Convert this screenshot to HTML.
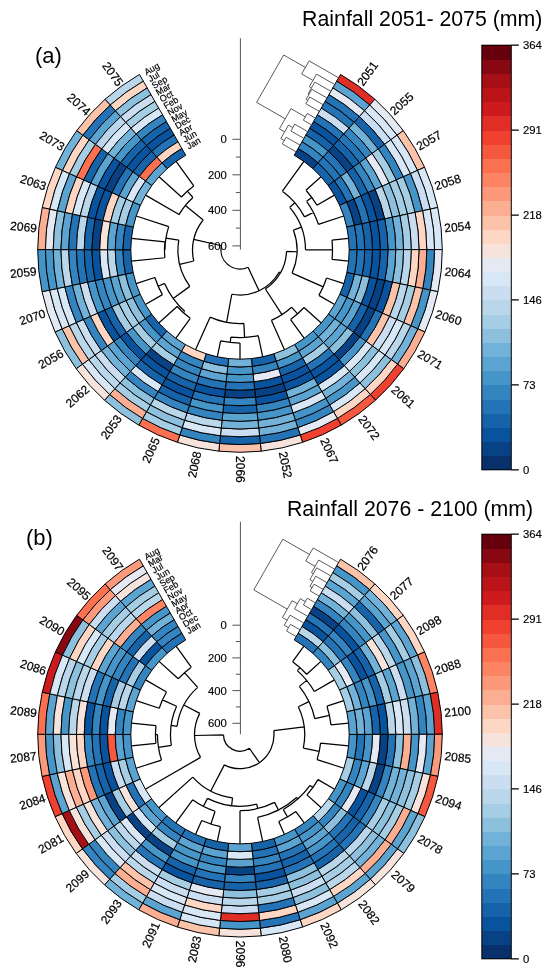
<!DOCTYPE html>
<html lang="en"><head><meta charset="utf-8"><title>Rainfall circular heatmaps</title>
<style>html,body{margin:0;padding:0;background:#fff}svg{display:block}</style></head>
<body>
<svg width="550" height="974" viewBox="0 0 550 974" font-family="'Liberation Sans', Arial, Helvetica, sans-serif">
<g stroke="#000" stroke-width="1.0" stroke-linejoin="miter">
<path d="M340.54 74.45A202.3 202.3 0 0 1 374.88 99.23L369.71 105.01A194.54 194.54 0 0 0 336.68 81.18Z" fill="#E02D26"/>
<path d="M336.68 81.18A194.54 194.54 0 0 1 369.71 105.01L364.54 110.79A186.78 186.78 0 0 0 332.83 87.92Z" fill="#5BA3D0"/>
<path d="M332.83 87.92A186.78 186.78 0 0 1 364.54 110.79L359.36 116.57A179.03 179.03 0 0 0 328.97 94.65Z" fill="#E4E9F3"/>
<path d="M328.97 94.65A179.03 179.03 0 0 1 359.36 116.57L354.19 122.36A171.27 171.27 0 0 0 325.12 101.38Z" fill="#2373B6"/>
<path d="M325.12 101.38A171.27 171.27 0 0 1 354.19 122.36L349.02 128.14A163.51 163.51 0 0 0 321.26 108.11Z" fill="#2373B6"/>
<path d="M321.26 108.11A163.51 163.51 0 0 1 349.02 128.14L343.84 133.92A155.75 155.75 0 0 0 317.4 114.85Z" fill="#CBDEF1"/>
<path d="M317.4 114.85A155.75 155.75 0 0 1 343.84 133.92L338.67 139.7A147.99 147.99 0 0 0 313.55 121.58Z" fill="#2373B6"/>
<path d="M313.55 121.58A147.99 147.99 0 0 1 338.67 139.7L333.5 145.49A140.23 140.23 0 0 0 309.69 128.31Z" fill="#09529D"/>
<path d="M309.69 128.31A140.23 140.23 0 0 1 333.5 145.49L328.33 151.27A132.48 132.48 0 0 0 305.84 135.04Z" fill="#1663AA"/>
<path d="M305.84 135.04A132.48 132.48 0 0 1 328.33 151.27L323.15 157.05A124.72 124.72 0 0 0 301.98 141.78Z" fill="#4695C8"/>
<path d="M301.98 141.78A124.72 124.72 0 0 1 323.15 157.05L317.98 162.83A116.96 116.96 0 0 0 298.13 148.51Z" fill="#3484BF"/>
<path d="M298.13 148.51A116.96 116.96 0 0 1 317.98 162.83L312.81 168.61A109.2 109.2 0 0 0 294.27 155.24Z" fill="#084184"/>
<path d="M374.88 99.23A202.3 202.3 0 0 1 403.31 130.61L397.05 135.19A194.54 194.54 0 0 0 369.71 105.01Z" fill="#E4E9F3"/>
<path d="M369.71 105.01A194.54 194.54 0 0 1 397.05 135.19L390.79 139.77A186.78 186.78 0 0 0 364.54 110.79Z" fill="#D7E7F5"/>
<path d="M364.54 110.79A186.78 186.78 0 0 1 390.79 139.77L384.53 144.35A179.03 179.03 0 0 0 359.36 116.57Z" fill="#CBDEF1"/>
<path d="M359.36 116.57A179.03 179.03 0 0 1 384.53 144.35L378.26 148.93A171.27 171.27 0 0 0 354.19 122.36Z" fill="#1663AA"/>
<path d="M354.19 122.36A171.27 171.27 0 0 1 378.26 148.93L372 153.5A163.51 163.51 0 0 0 349.02 128.14Z" fill="#72B2D8"/>
<path d="M349.02 128.14A163.51 163.51 0 0 1 372 153.5L365.74 158.08A155.75 155.75 0 0 0 343.84 133.92Z" fill="#3484BF"/>
<path d="M343.84 133.92A155.75 155.75 0 0 1 365.74 158.08L359.47 162.66A147.99 147.99 0 0 0 338.67 139.7Z" fill="#2373B6"/>
<path d="M338.67 139.7A147.99 147.99 0 0 1 359.47 162.66L353.21 167.24A140.23 140.23 0 0 0 333.5 145.49Z" fill="#1663AA"/>
<path d="M333.5 145.49A140.23 140.23 0 0 1 353.21 167.24L346.95 171.82A132.48 132.48 0 0 0 328.33 151.27Z" fill="#084184"/>
<path d="M328.33 151.27A132.48 132.48 0 0 1 346.95 171.82L340.68 176.4A124.72 124.72 0 0 0 323.15 157.05Z" fill="#2373B6"/>
<path d="M323.15 157.05A124.72 124.72 0 0 1 340.68 176.4L334.42 180.98A116.96 116.96 0 0 0 317.98 162.83Z" fill="#2373B6"/>
<path d="M317.98 162.83A116.96 116.96 0 0 1 334.42 180.98L328.16 185.56A109.2 109.2 0 0 0 312.81 168.61Z" fill="#1663AA"/>
<path d="M403.31 130.61A202.3 202.3 0 0 1 424.59 167.23L417.51 170.4A194.54 194.54 0 0 0 397.05 135.19Z" fill="#FCC3AB"/>
<path d="M397.05 135.19A194.54 194.54 0 0 1 417.51 170.4L410.43 173.58A186.78 186.78 0 0 0 390.79 139.77Z" fill="#D7E7F5"/>
<path d="M390.79 139.77A186.78 186.78 0 0 1 410.43 173.58L403.35 176.75A179.03 179.03 0 0 0 384.53 144.35Z" fill="#D7E7F5"/>
<path d="M384.53 144.35A179.03 179.03 0 0 1 403.35 176.75L396.27 179.92A171.27 171.27 0 0 0 378.26 148.93Z" fill="#3484BF"/>
<path d="M378.26 148.93A171.27 171.27 0 0 1 396.27 179.92L389.2 183.1A163.51 163.51 0 0 0 372 153.5Z" fill="#A5CDE3"/>
<path d="M372 153.5A163.51 163.51 0 0 1 389.2 183.1L382.12 186.27A155.75 155.75 0 0 0 365.74 158.08Z" fill="#E4E9F3"/>
<path d="M365.74 158.08A155.75 155.75 0 0 1 382.12 186.27L375.04 189.45A147.99 147.99 0 0 0 359.47 162.66Z" fill="#5BA3D0"/>
<path d="M359.47 162.66A147.99 147.99 0 0 1 375.04 189.45L367.96 192.62A140.23 140.23 0 0 0 353.21 167.24Z" fill="#3484BF"/>
<path d="M353.21 167.24A140.23 140.23 0 0 1 367.96 192.62L360.88 195.8A132.48 132.48 0 0 0 346.95 171.82Z" fill="#1663AA"/>
<path d="M346.95 171.82A132.48 132.48 0 0 1 360.88 195.8L353.8 198.97A124.72 124.72 0 0 0 340.68 176.4Z" fill="#72B2D8"/>
<path d="M340.68 176.4A124.72 124.72 0 0 1 353.8 198.97L346.72 202.15A116.96 116.96 0 0 0 334.42 180.98Z" fill="#2373B6"/>
<path d="M334.42 180.98A116.96 116.96 0 0 1 346.72 202.15L339.64 205.32A109.2 109.2 0 0 0 328.16 185.56Z" fill="#09529D"/>
<path d="M424.59 167.23A202.3 202.3 0 0 1 437.78 207.47L430.19 209.1A194.54 194.54 0 0 0 417.51 170.4Z" fill="#D7E7F5"/>
<path d="M417.51 170.4A194.54 194.54 0 0 1 430.19 209.1L422.61 210.73A186.78 186.78 0 0 0 410.43 173.58Z" fill="#CBDEF1"/>
<path d="M410.43 173.58A186.78 186.78 0 0 1 422.61 210.73L415.02 212.36A179.03 179.03 0 0 0 403.35 176.75Z" fill="#4695C8"/>
<path d="M403.35 176.75A179.03 179.03 0 0 1 415.02 212.36L407.44 213.99A171.27 171.27 0 0 0 396.27 179.92Z" fill="#A5CDE3"/>
<path d="M396.27 179.92A171.27 171.27 0 0 1 407.44 213.99L399.85 215.63A163.51 163.51 0 0 0 389.2 183.1Z" fill="#A5CDE3"/>
<path d="M389.2 183.1A163.51 163.51 0 0 1 399.85 215.63L392.27 217.26A155.75 155.75 0 0 0 382.12 186.27Z" fill="#8CC0DD"/>
<path d="M382.12 186.27A155.75 155.75 0 0 1 392.27 217.26L384.68 218.89A147.99 147.99 0 0 0 375.04 189.45Z" fill="#BAD6EB"/>
<path d="M375.04 189.45A147.99 147.99 0 0 1 384.68 218.89L377.1 220.52A140.23 140.23 0 0 0 367.96 192.62Z" fill="#084184"/>
<path d="M367.96 192.62A140.23 140.23 0 0 1 377.1 220.52L369.51 222.15A132.48 132.48 0 0 0 360.88 195.8Z" fill="#09529D"/>
<path d="M360.88 195.8A132.48 132.48 0 0 1 369.51 222.15L361.93 223.78A124.72 124.72 0 0 0 353.8 198.97Z" fill="#2373B6"/>
<path d="M353.8 198.97A124.72 124.72 0 0 1 361.93 223.78L354.34 225.41A116.96 116.96 0 0 0 346.72 202.15Z" fill="#084184"/>
<path d="M346.72 202.15A116.96 116.96 0 0 1 354.34 225.41L346.76 227.04A109.2 109.2 0 0 0 339.64 205.32Z" fill="#3484BF"/>
<path d="M437.78 207.47A202.3 202.3 0 0 1 442.3 249.58L434.54 249.59A194.54 194.54 0 0 0 430.19 209.1Z" fill="#D7E7F5"/>
<path d="M430.19 209.1A194.54 194.54 0 0 1 434.54 249.59L426.78 249.61A186.78 186.78 0 0 0 422.61 210.73Z" fill="#D7E7F5"/>
<path d="M422.61 210.73A186.78 186.78 0 0 1 426.78 249.61L419.02 249.63A179.03 179.03 0 0 0 415.02 212.36Z" fill="#FDD6C4"/>
<path d="M415.02 212.36A179.03 179.03 0 0 1 419.02 249.63L411.27 249.64A171.27 171.27 0 0 0 407.44 213.99Z" fill="#CBDEF1"/>
<path d="M407.44 213.99A171.27 171.27 0 0 1 411.27 249.64L403.51 249.66A163.51 163.51 0 0 0 399.85 215.63Z" fill="#A5CDE3"/>
<path d="M399.85 215.63A163.51 163.51 0 0 1 403.51 249.66L395.75 249.67A155.75 155.75 0 0 0 392.27 217.26Z" fill="#72B2D8"/>
<path d="M392.27 217.26A155.75 155.75 0 0 1 395.75 249.67L387.99 249.69A147.99 147.99 0 0 0 384.68 218.89Z" fill="#4695C8"/>
<path d="M384.68 218.89A147.99 147.99 0 0 1 387.99 249.69L380.23 249.71A140.23 140.23 0 0 0 377.1 220.52Z" fill="#1663AA"/>
<path d="M377.1 220.52A140.23 140.23 0 0 1 380.23 249.71L372.47 249.72A132.48 132.48 0 0 0 369.51 222.15Z" fill="#09529D"/>
<path d="M369.51 222.15A132.48 132.48 0 0 1 372.47 249.72L364.72 249.74A124.72 124.72 0 0 0 361.93 223.78Z" fill="#1663AA"/>
<path d="M361.93 223.78A124.72 124.72 0 0 1 364.72 249.74L356.96 249.76A116.96 116.96 0 0 0 354.34 225.41Z" fill="#2373B6"/>
<path d="M354.34 225.41A116.96 116.96 0 0 1 356.96 249.76L349.2 249.77A109.2 109.2 0 0 0 346.76 227.04Z" fill="#2373B6"/>
<path d="M442.3 249.58A202.3 202.3 0 0 1 437.96 291.7L430.36 290.1A194.54 194.54 0 0 0 434.54 249.59Z" fill="#E4E9F3"/>
<path d="M434.54 249.59A194.54 194.54 0 0 1 430.36 290.1L422.77 288.5A186.78 186.78 0 0 0 426.78 249.61Z" fill="#3484BF"/>
<path d="M426.78 249.61A186.78 186.78 0 0 1 422.77 288.5L415.18 286.9A179.03 179.03 0 0 0 419.02 249.63Z" fill="#FCAE92"/>
<path d="M419.02 249.63A179.03 179.03 0 0 1 415.18 286.9L407.59 285.3A171.27 171.27 0 0 0 411.27 249.64Z" fill="#FDD6C4"/>
<path d="M411.27 249.64A171.27 171.27 0 0 1 407.59 285.3L400 283.7A163.51 163.51 0 0 0 403.51 249.66Z" fill="#BAD6EB"/>
<path d="M403.51 249.66A163.51 163.51 0 0 1 400 283.7L392.41 282.11A155.75 155.75 0 0 0 395.75 249.67Z" fill="#8CC0DD"/>
<path d="M395.75 249.67A155.75 155.75 0 0 1 392.41 282.11L384.81 280.51A147.99 147.99 0 0 0 387.99 249.69Z" fill="#5BA3D0"/>
<path d="M387.99 249.69A147.99 147.99 0 0 1 384.81 280.51L377.22 278.91A140.23 140.23 0 0 0 380.23 249.71Z" fill="#1663AA"/>
<path d="M380.23 249.71A140.23 140.23 0 0 1 377.22 278.91L369.63 277.31A132.48 132.48 0 0 0 372.47 249.72Z" fill="#09529D"/>
<path d="M372.47 249.72A132.48 132.48 0 0 1 369.63 277.31L362.04 275.71A124.72 124.72 0 0 0 364.72 249.74Z" fill="#1663AA"/>
<path d="M364.72 249.74A124.72 124.72 0 0 1 362.04 275.71L354.45 274.11A116.96 116.96 0 0 0 356.96 249.76Z" fill="#2373B6"/>
<path d="M356.96 249.76A116.96 116.96 0 0 1 354.45 274.11L346.85 272.51A109.2 109.2 0 0 0 349.2 249.77Z" fill="#2373B6"/>
<path d="M437.96 291.7A202.3 202.3 0 0 1 424.94 332L417.84 328.85A194.54 194.54 0 0 0 430.36 290.1Z" fill="#E4E9F3"/>
<path d="M430.36 290.1A194.54 194.54 0 0 1 417.84 328.85L410.75 325.71A186.78 186.78 0 0 0 422.77 288.5Z" fill="#4695C8"/>
<path d="M422.77 288.5A186.78 186.78 0 0 1 410.75 325.71L403.66 322.56A179.03 179.03 0 0 0 415.18 286.9Z" fill="#FCC3AB"/>
<path d="M415.18 286.9A179.03 179.03 0 0 1 403.66 322.56L396.57 319.42A171.27 171.27 0 0 0 407.59 285.3Z" fill="#A5CDE3"/>
<path d="M407.59 285.3A171.27 171.27 0 0 1 396.57 319.42L389.47 316.28A163.51 163.51 0 0 0 400 283.7Z" fill="#BAD6EB"/>
<path d="M400 283.7A163.51 163.51 0 0 1 389.47 316.28L382.38 313.13A155.75 155.75 0 0 0 392.41 282.11Z" fill="#FCC3AB"/>
<path d="M392.41 282.11A155.75 155.75 0 0 1 382.38 313.13L375.29 309.99A147.99 147.99 0 0 0 384.81 280.51Z" fill="#09529D"/>
<path d="M384.81 280.51A147.99 147.99 0 0 1 375.29 309.99L368.2 306.84A140.23 140.23 0 0 0 377.22 278.91Z" fill="#084184"/>
<path d="M377.22 278.91A140.23 140.23 0 0 1 368.2 306.84L361.1 303.7A132.48 132.48 0 0 0 369.63 277.31Z" fill="#09529D"/>
<path d="M369.63 277.31A132.48 132.48 0 0 1 361.1 303.7L354.01 300.55A124.72 124.72 0 0 0 362.04 275.71Z" fill="#8CC0DD"/>
<path d="M362.04 275.71A124.72 124.72 0 0 1 354.01 300.55L346.92 297.41A116.96 116.96 0 0 0 354.45 274.11Z" fill="#72B2D8"/>
<path d="M354.45 274.11A116.96 116.96 0 0 1 346.92 297.41L339.83 294.26A109.2 109.2 0 0 0 346.85 272.51Z" fill="#1663AA"/>
<path d="M424.94 332A202.3 202.3 0 0 1 403.81 368.7L397.53 364.15A194.54 194.54 0 0 0 417.84 328.85Z" fill="#FCAE92"/>
<path d="M417.84 328.85A194.54 194.54 0 0 1 397.53 364.15L391.25 359.6A186.78 186.78 0 0 0 410.75 325.71Z" fill="#72B2D8"/>
<path d="M410.75 325.71A186.78 186.78 0 0 1 391.25 359.6L384.97 355.05A179.03 179.03 0 0 0 403.66 322.56Z" fill="#BAD6EB"/>
<path d="M403.66 322.56A179.03 179.03 0 0 1 384.97 355.05L378.68 350.49A171.27 171.27 0 0 0 396.57 319.42Z" fill="#D7E7F5"/>
<path d="M396.57 319.42A171.27 171.27 0 0 1 378.68 350.49L372.4 345.94A163.51 163.51 0 0 0 389.47 316.28Z" fill="#CBDEF1"/>
<path d="M389.47 316.28A163.51 163.51 0 0 1 372.4 345.94L366.12 341.39A155.75 155.75 0 0 0 382.38 313.13Z" fill="#FCC3AB"/>
<path d="M382.38 313.13A155.75 155.75 0 0 1 366.12 341.39L359.84 336.84A147.99 147.99 0 0 0 375.29 309.99Z" fill="#2373B6"/>
<path d="M375.29 309.99A147.99 147.99 0 0 1 359.84 336.84L353.55 332.28A140.23 140.23 0 0 0 368.2 306.84Z" fill="#084184"/>
<path d="M368.2 306.84A140.23 140.23 0 0 1 353.55 332.28L347.27 327.73A132.48 132.48 0 0 0 361.1 303.7Z" fill="#1663AA"/>
<path d="M361.1 303.7A132.48 132.48 0 0 1 347.27 327.73L340.99 323.18A124.72 124.72 0 0 0 354.01 300.55Z" fill="#5BA3D0"/>
<path d="M354.01 300.55A124.72 124.72 0 0 1 340.99 323.18L334.71 318.63A116.96 116.96 0 0 0 346.92 297.41Z" fill="#4695C8"/>
<path d="M346.92 297.41A116.96 116.96 0 0 1 334.71 318.63L328.43 314.08A109.2 109.2 0 0 0 339.83 294.26Z" fill="#5BA3D0"/>
<path d="M403.81 368.7A202.3 202.3 0 0 1 375.51 400.21L370.32 394.45A194.54 194.54 0 0 0 397.53 364.15Z" fill="#F0402F"/>
<path d="M397.53 364.15A194.54 194.54 0 0 1 370.32 394.45L365.12 388.68A186.78 186.78 0 0 0 391.25 359.6Z" fill="#FDD6C4"/>
<path d="M391.25 359.6A186.78 186.78 0 0 1 365.12 388.68L359.92 382.92A179.03 179.03 0 0 0 384.97 355.05Z" fill="#8CC0DD"/>
<path d="M384.97 355.05A179.03 179.03 0 0 1 359.92 382.92L354.72 377.16A171.27 171.27 0 0 0 378.68 350.49Z" fill="#D7E7F5"/>
<path d="M378.68 350.49A171.27 171.27 0 0 1 354.72 377.16L349.53 371.4A163.51 163.51 0 0 0 372.4 345.94Z" fill="#8CC0DD"/>
<path d="M372.4 345.94A163.51 163.51 0 0 1 349.53 371.4L344.33 365.64A155.75 155.75 0 0 0 366.12 341.39Z" fill="#D7E7F5"/>
<path d="M366.12 341.39A155.75 155.75 0 0 1 344.33 365.64L339.13 359.88A147.99 147.99 0 0 0 359.84 336.84Z" fill="#4695C8"/>
<path d="M359.84 336.84A147.99 147.99 0 0 1 339.13 359.88L333.94 354.12A140.23 140.23 0 0 0 353.55 332.28Z" fill="#084184"/>
<path d="M353.55 332.28A140.23 140.23 0 0 1 333.94 354.12L328.74 348.36A132.48 132.48 0 0 0 347.27 327.73Z" fill="#8CC0DD"/>
<path d="M347.27 327.73A132.48 132.48 0 0 1 328.74 348.36L323.54 342.6A124.72 124.72 0 0 0 340.99 323.18Z" fill="#5BA3D0"/>
<path d="M340.99 323.18A124.72 124.72 0 0 1 323.54 342.6L318.35 336.84A116.96 116.96 0 0 0 334.71 318.63Z" fill="#72B2D8"/>
<path d="M334.71 318.63A116.96 116.96 0 0 1 318.35 336.84L313.15 331.08A109.2 109.2 0 0 0 328.43 314.08Z" fill="#4695C8"/>
<path d="M375.51 400.21A202.3 202.3 0 0 1 341.27 425.13L337.39 418.41A194.54 194.54 0 0 0 370.32 394.45Z" fill="#F6583F"/>
<path d="M370.32 394.45A194.54 194.54 0 0 1 337.39 418.41L333.5 411.69A186.78 186.78 0 0 0 365.12 388.68Z" fill="#FDD6C4"/>
<path d="M365.12 388.68A186.78 186.78 0 0 1 333.5 411.69L329.62 404.98A179.03 179.03 0 0 0 359.92 382.92Z" fill="#D7E7F5"/>
<path d="M359.92 382.92A179.03 179.03 0 0 1 329.62 404.98L325.74 398.26A171.27 171.27 0 0 0 354.72 377.16Z" fill="#4695C8"/>
<path d="M354.72 377.16A171.27 171.27 0 0 1 325.74 398.26L321.85 391.55A163.51 163.51 0 0 0 349.53 371.4Z" fill="#72B2D8"/>
<path d="M349.53 371.4A163.51 163.51 0 0 1 321.85 391.55L317.97 384.83A155.75 155.75 0 0 0 344.33 365.64Z" fill="#D7E7F5"/>
<path d="M344.33 365.64A155.75 155.75 0 0 1 317.97 384.83L314.09 378.11A147.99 147.99 0 0 0 339.13 359.88Z" fill="#09529D"/>
<path d="M339.13 359.88A147.99 147.99 0 0 1 314.09 378.11L310.2 371.4A140.23 140.23 0 0 0 333.94 354.12Z" fill="#09529D"/>
<path d="M333.94 354.12A140.23 140.23 0 0 1 310.2 371.4L306.32 364.68A132.48 132.48 0 0 0 328.74 348.36Z" fill="#2373B6"/>
<path d="M328.74 348.36A132.48 132.48 0 0 1 306.32 364.68L302.43 357.96A124.72 124.72 0 0 0 323.54 342.6Z" fill="#A5CDE3"/>
<path d="M323.54 342.6A124.72 124.72 0 0 1 302.43 357.96L298.55 351.25A116.96 116.96 0 0 0 318.35 336.84Z" fill="#5BA3D0"/>
<path d="M318.35 336.84A116.96 116.96 0 0 1 298.55 351.25L294.67 344.53A109.2 109.2 0 0 0 313.15 331.08Z" fill="#4695C8"/>
<path d="M341.27 425.13A202.3 202.3 0 0 1 302.59 442.37L300.19 434.99A194.54 194.54 0 0 0 337.39 418.41Z" fill="#F0402F"/>
<path d="M337.39 418.41A194.54 194.54 0 0 1 300.19 434.99L297.79 427.62A186.78 186.78 0 0 0 333.5 411.69Z" fill="#E4E9F3"/>
<path d="M333.5 411.69A186.78 186.78 0 0 1 297.79 427.62L295.39 420.24A179.03 179.03 0 0 0 329.62 404.98Z" fill="#3484BF"/>
<path d="M329.62 404.98A179.03 179.03 0 0 1 295.39 420.24L292.99 412.86A171.27 171.27 0 0 0 325.74 398.26Z" fill="#4695C8"/>
<path d="M325.74 398.26A171.27 171.27 0 0 1 292.99 412.86L290.59 405.48A163.51 163.51 0 0 0 321.85 391.55Z" fill="#D7E7F5"/>
<path d="M321.85 391.55A163.51 163.51 0 0 1 290.59 405.48L288.19 398.11A155.75 155.75 0 0 0 317.97 384.83Z" fill="#5BA3D0"/>
<path d="M317.97 384.83A155.75 155.75 0 0 1 288.19 398.11L285.79 390.73A147.99 147.99 0 0 0 314.09 378.11Z" fill="#72B2D8"/>
<path d="M314.09 378.11A147.99 147.99 0 0 1 285.79 390.73L283.39 383.35A140.23 140.23 0 0 0 310.2 371.4Z" fill="#09529D"/>
<path d="M310.2 371.4A140.23 140.23 0 0 1 283.39 383.35L280.99 375.97A132.48 132.48 0 0 0 306.32 364.68Z" fill="#09529D"/>
<path d="M306.32 364.68A132.48 132.48 0 0 1 280.99 375.97L278.59 368.6A124.72 124.72 0 0 0 302.43 357.96Z" fill="#1663AA"/>
<path d="M302.43 357.96A124.72 124.72 0 0 1 278.59 368.6L276.19 361.22A116.96 116.96 0 0 0 298.55 351.25Z" fill="#4695C8"/>
<path d="M298.55 351.25A116.96 116.96 0 0 1 276.19 361.22L273.79 353.84A109.2 109.2 0 0 0 294.67 344.53Z" fill="#8CC0DD"/>
<path d="M302.59 442.37A202.3 202.3 0 0 1 261.17 451.19L260.36 443.47A194.54 194.54 0 0 0 300.19 434.99Z" fill="#F6E3DB"/>
<path d="M300.19 434.99A194.54 194.54 0 0 1 260.36 443.47L259.55 435.76A186.78 186.78 0 0 0 297.79 427.62Z" fill="#2373B6"/>
<path d="M297.79 427.62A186.78 186.78 0 0 1 259.55 435.76L258.74 428.04A179.03 179.03 0 0 0 295.39 420.24Z" fill="#72B2D8"/>
<path d="M295.39 420.24A179.03 179.03 0 0 1 258.74 428.04L257.93 420.33A171.27 171.27 0 0 0 292.99 412.86Z" fill="#72B2D8"/>
<path d="M292.99 412.86A171.27 171.27 0 0 1 257.93 420.33L257.11 412.61A163.51 163.51 0 0 0 290.59 405.48Z" fill="#4695C8"/>
<path d="M290.59 405.48A163.51 163.51 0 0 1 257.11 412.61L256.3 404.89A155.75 155.75 0 0 0 288.19 398.11Z" fill="#3484BF"/>
<path d="M288.19 398.11A155.75 155.75 0 0 1 256.3 404.89L255.49 397.18A147.99 147.99 0 0 0 285.79 390.73Z" fill="#09529D"/>
<path d="M285.79 390.73A147.99 147.99 0 0 1 255.49 397.18L254.68 389.46A140.23 140.23 0 0 0 283.39 383.35Z" fill="#084184"/>
<path d="M283.39 383.35A140.23 140.23 0 0 1 254.68 389.46L253.87 381.75A132.48 132.48 0 0 0 280.99 375.97Z" fill="#09529D"/>
<path d="M280.99 375.97A132.48 132.48 0 0 1 253.87 381.75L253.05 374.03A124.72 124.72 0 0 0 278.59 368.6Z" fill="#E4E9F3"/>
<path d="M278.59 368.6A124.72 124.72 0 0 1 253.05 374.03L252.24 366.32A116.96 116.96 0 0 0 276.19 361.22Z" fill="#3484BF"/>
<path d="M276.19 361.22A116.96 116.96 0 0 1 252.24 366.32L251.43 358.6A109.2 109.2 0 0 0 273.79 353.84Z" fill="#1663AA"/>
<path d="M261.17 451.19A202.3 202.3 0 0 1 218.83 451.19L219.64 443.47A194.54 194.54 0 0 0 260.36 443.47Z" fill="#FCC3AB"/>
<path d="M260.36 443.47A194.54 194.54 0 0 1 219.64 443.47L220.45 435.76A186.78 186.78 0 0 0 259.55 435.76Z" fill="#1663AA"/>
<path d="M259.55 435.76A186.78 186.78 0 0 1 220.45 435.76L221.26 428.04A179.03 179.03 0 0 0 258.74 428.04Z" fill="#CBDEF1"/>
<path d="M258.74 428.04A179.03 179.03 0 0 1 221.26 428.04L222.07 420.33A171.27 171.27 0 0 0 257.93 420.33Z" fill="#72B2D8"/>
<path d="M257.93 420.33A171.27 171.27 0 0 1 222.07 420.33L222.89 412.61A163.51 163.51 0 0 0 257.11 412.61Z" fill="#5BA3D0"/>
<path d="M257.11 412.61A163.51 163.51 0 0 1 222.89 412.61L223.7 404.89A155.75 155.75 0 0 0 256.3 404.89Z" fill="#1663AA"/>
<path d="M256.3 404.89A155.75 155.75 0 0 1 223.7 404.89L224.51 397.18A147.99 147.99 0 0 0 255.49 397.18Z" fill="#3484BF"/>
<path d="M255.49 397.18A147.99 147.99 0 0 1 224.51 397.18L225.32 389.46A140.23 140.23 0 0 0 254.68 389.46Z" fill="#084184"/>
<path d="M254.68 389.46A140.23 140.23 0 0 1 225.32 389.46L226.13 381.75A132.48 132.48 0 0 0 253.87 381.75Z" fill="#2373B6"/>
<path d="M253.87 381.75A132.48 132.48 0 0 1 226.13 381.75L226.95 374.03A124.72 124.72 0 0 0 253.05 374.03Z" fill="#4695C8"/>
<path d="M253.05 374.03A124.72 124.72 0 0 1 226.95 374.03L227.76 366.32A116.96 116.96 0 0 0 252.24 366.32Z" fill="#4695C8"/>
<path d="M252.24 366.32A116.96 116.96 0 0 1 227.76 366.32L228.57 358.6A109.2 109.2 0 0 0 251.43 358.6Z" fill="#72B2D8"/>
<path d="M218.83 451.19A202.3 202.3 0 0 1 177.41 442.37L179.81 434.99A194.54 194.54 0 0 0 219.64 443.47Z" fill="#F6E3DB"/>
<path d="M219.64 443.47A194.54 194.54 0 0 1 179.81 434.99L182.21 427.62A186.78 186.78 0 0 0 220.45 435.76Z" fill="#3484BF"/>
<path d="M220.45 435.76A186.78 186.78 0 0 1 182.21 427.62L184.61 420.24A179.03 179.03 0 0 0 221.26 428.04Z" fill="#D7E7F5"/>
<path d="M221.26 428.04A179.03 179.03 0 0 1 184.61 420.24L187.01 412.86A171.27 171.27 0 0 0 222.07 420.33Z" fill="#BAD6EB"/>
<path d="M222.07 420.33A171.27 171.27 0 0 1 187.01 412.86L189.41 405.48A163.51 163.51 0 0 0 222.89 412.61Z" fill="#3484BF"/>
<path d="M222.89 412.61A163.51 163.51 0 0 1 189.41 405.48L191.81 398.11A155.75 155.75 0 0 0 223.7 404.89Z" fill="#4695C8"/>
<path d="M223.7 404.89A155.75 155.75 0 0 1 191.81 398.11L194.21 390.73A147.99 147.99 0 0 0 224.51 397.18Z" fill="#2373B6"/>
<path d="M224.51 397.18A147.99 147.99 0 0 1 194.21 390.73L196.61 383.35A140.23 140.23 0 0 0 225.32 389.46Z" fill="#09529D"/>
<path d="M225.32 389.46A140.23 140.23 0 0 1 196.61 383.35L199.01 375.97A132.48 132.48 0 0 0 226.13 381.75Z" fill="#2373B6"/>
<path d="M226.13 381.75A132.48 132.48 0 0 1 199.01 375.97L201.41 368.6A124.72 124.72 0 0 0 226.95 374.03Z" fill="#5BA3D0"/>
<path d="M226.95 374.03A124.72 124.72 0 0 1 201.41 368.6L203.81 361.22A116.96 116.96 0 0 0 227.76 366.32Z" fill="#8CC0DD"/>
<path d="M227.76 366.32A116.96 116.96 0 0 1 203.81 361.22L206.21 353.84A109.2 109.2 0 0 0 228.57 358.6Z" fill="#2373B6"/>
<path d="M177.41 442.37A202.3 202.3 0 0 1 138.73 425.13L142.61 418.41A194.54 194.54 0 0 0 179.81 434.99Z" fill="#FB7050"/>
<path d="M179.81 434.99A194.54 194.54 0 0 1 142.61 418.41L146.5 411.69A186.78 186.78 0 0 0 182.21 427.62Z" fill="#A5CDE3"/>
<path d="M182.21 427.62A186.78 186.78 0 0 1 146.5 411.69L150.38 404.98A179.03 179.03 0 0 0 184.61 420.24Z" fill="#8CC0DD"/>
<path d="M184.61 420.24A179.03 179.03 0 0 1 150.38 404.98L154.26 398.26A171.27 171.27 0 0 0 187.01 412.86Z" fill="#BAD6EB"/>
<path d="M187.01 412.86A171.27 171.27 0 0 1 154.26 398.26L158.15 391.55A163.51 163.51 0 0 0 189.41 405.48Z" fill="#3484BF"/>
<path d="M189.41 405.48A163.51 163.51 0 0 1 158.15 391.55L162.03 384.83A155.75 155.75 0 0 0 191.81 398.11Z" fill="#1663AA"/>
<path d="M191.81 398.11A155.75 155.75 0 0 1 162.03 384.83L165.91 378.11A147.99 147.99 0 0 0 194.21 390.73Z" fill="#09529D"/>
<path d="M194.21 390.73A147.99 147.99 0 0 1 165.91 378.11L169.8 371.4A140.23 140.23 0 0 0 196.61 383.35Z" fill="#1663AA"/>
<path d="M196.61 383.35A140.23 140.23 0 0 1 169.8 371.4L173.68 364.68A132.48 132.48 0 0 0 199.01 375.97Z" fill="#3484BF"/>
<path d="M199.01 375.97A132.48 132.48 0 0 1 173.68 364.68L177.57 357.96A124.72 124.72 0 0 0 201.41 368.6Z" fill="#3484BF"/>
<path d="M201.41 368.6A124.72 124.72 0 0 1 177.57 357.96L181.45 351.25A116.96 116.96 0 0 0 203.81 361.22Z" fill="#3484BF"/>
<path d="M203.81 361.22A116.96 116.96 0 0 1 181.45 351.25L185.33 344.53A109.2 109.2 0 0 0 206.21 353.84Z" fill="#FDD6C4"/>
<path d="M138.73 425.13A202.3 202.3 0 0 1 104.49 400.21L109.68 394.45A194.54 194.54 0 0 0 142.61 418.41Z" fill="#8CC0DD"/>
<path d="M142.61 418.41A194.54 194.54 0 0 1 109.68 394.45L114.88 388.68A186.78 186.78 0 0 0 146.5 411.69Z" fill="#FCAE92"/>
<path d="M146.5 411.69A186.78 186.78 0 0 1 114.88 388.68L120.08 382.92A179.03 179.03 0 0 0 150.38 404.98Z" fill="#A5CDE3"/>
<path d="M150.38 404.98A179.03 179.03 0 0 1 120.08 382.92L125.28 377.16A171.27 171.27 0 0 0 154.26 398.26Z" fill="#8CC0DD"/>
<path d="M154.26 398.26A171.27 171.27 0 0 1 125.28 377.16L130.47 371.4A163.51 163.51 0 0 0 158.15 391.55Z" fill="#3484BF"/>
<path d="M158.15 391.55A163.51 163.51 0 0 1 130.47 371.4L135.67 365.64A155.75 155.75 0 0 0 162.03 384.83Z" fill="#D7E7F5"/>
<path d="M162.03 384.83A155.75 155.75 0 0 1 135.67 365.64L140.87 359.88A147.99 147.99 0 0 0 165.91 378.11Z" fill="#1663AA"/>
<path d="M165.91 378.11A147.99 147.99 0 0 1 140.87 359.88L146.06 354.12A140.23 140.23 0 0 0 169.8 371.4Z" fill="#09529D"/>
<path d="M169.8 371.4A140.23 140.23 0 0 1 146.06 354.12L151.26 348.36A132.48 132.48 0 0 0 173.68 364.68Z" fill="#084184"/>
<path d="M173.68 364.68A132.48 132.48 0 0 1 151.26 348.36L156.46 342.6A124.72 124.72 0 0 0 177.57 357.96Z" fill="#A5CDE3"/>
<path d="M177.57 357.96A124.72 124.72 0 0 1 156.46 342.6L161.65 336.84A116.96 116.96 0 0 0 181.45 351.25Z" fill="#5BA3D0"/>
<path d="M181.45 351.25A116.96 116.96 0 0 1 161.65 336.84L166.85 331.08A109.2 109.2 0 0 0 185.33 344.53Z" fill="#5BA3D0"/>
<path d="M104.49 400.21A202.3 202.3 0 0 1 76.19 368.7L82.47 364.15A194.54 194.54 0 0 0 109.68 394.45Z" fill="#F6E3DB"/>
<path d="M109.68 394.45A194.54 194.54 0 0 1 82.47 364.15L88.75 359.6A186.78 186.78 0 0 0 114.88 388.68Z" fill="#D7E7F5"/>
<path d="M114.88 388.68A186.78 186.78 0 0 1 88.75 359.6L95.03 355.05A179.03 179.03 0 0 0 120.08 382.92Z" fill="#BAD6EB"/>
<path d="M120.08 382.92A179.03 179.03 0 0 1 95.03 355.05L101.32 350.49A171.27 171.27 0 0 0 125.28 377.16Z" fill="#CBDEF1"/>
<path d="M125.28 377.16A171.27 171.27 0 0 1 101.32 350.49L107.6 345.94A163.51 163.51 0 0 0 130.47 371.4Z" fill="#72B2D8"/>
<path d="M130.47 371.4A163.51 163.51 0 0 1 107.6 345.94L113.88 341.39A155.75 155.75 0 0 0 135.67 365.64Z" fill="#5BA3D0"/>
<path d="M135.67 365.64A155.75 155.75 0 0 1 113.88 341.39L120.16 336.84A147.99 147.99 0 0 0 140.87 359.88Z" fill="#3484BF"/>
<path d="M140.87 359.88A147.99 147.99 0 0 1 120.16 336.84L126.45 332.28A140.23 140.23 0 0 0 146.06 354.12Z" fill="#09529D"/>
<path d="M146.06 354.12A140.23 140.23 0 0 1 126.45 332.28L132.73 327.73A132.48 132.48 0 0 0 151.26 348.36Z" fill="#4695C8"/>
<path d="M151.26 348.36A132.48 132.48 0 0 1 132.73 327.73L139.01 323.18A124.72 124.72 0 0 0 156.46 342.6Z" fill="#A5CDE3"/>
<path d="M156.46 342.6A124.72 124.72 0 0 1 139.01 323.18L145.29 318.63A116.96 116.96 0 0 0 161.65 336.84Z" fill="#4695C8"/>
<path d="M161.65 336.84A116.96 116.96 0 0 1 145.29 318.63L151.57 314.08A109.2 109.2 0 0 0 166.85 331.08Z" fill="#1663AA"/>
<path d="M76.19 368.7A202.3 202.3 0 0 1 55.06 332L62.16 328.85A194.54 194.54 0 0 0 82.47 364.15Z" fill="#8CC0DD"/>
<path d="M82.47 364.15A194.54 194.54 0 0 1 62.16 328.85L69.25 325.71A186.78 186.78 0 0 0 88.75 359.6Z" fill="#FCC3AB"/>
<path d="M88.75 359.6A186.78 186.78 0 0 1 69.25 325.71L76.34 322.56A179.03 179.03 0 0 0 95.03 355.05Z" fill="#BAD6EB"/>
<path d="M95.03 355.05A179.03 179.03 0 0 1 76.34 322.56L83.43 319.42A171.27 171.27 0 0 0 101.32 350.49Z" fill="#CBDEF1"/>
<path d="M101.32 350.49A171.27 171.27 0 0 1 83.43 319.42L90.53 316.28A163.51 163.51 0 0 0 107.6 345.94Z" fill="#3484BF"/>
<path d="M107.6 345.94A163.51 163.51 0 0 1 90.53 316.28L97.62 313.13A155.75 155.75 0 0 0 113.88 341.39Z" fill="#FDD6C4"/>
<path d="M113.88 341.39A155.75 155.75 0 0 1 97.62 313.13L104.71 309.99A147.99 147.99 0 0 0 120.16 336.84Z" fill="#09529D"/>
<path d="M120.16 336.84A147.99 147.99 0 0 1 104.71 309.99L111.8 306.84A140.23 140.23 0 0 0 126.45 332.28Z" fill="#1663AA"/>
<path d="M126.45 332.28A140.23 140.23 0 0 1 111.8 306.84L118.9 303.7A132.48 132.48 0 0 0 132.73 327.73Z" fill="#A5CDE3"/>
<path d="M132.73 327.73A132.48 132.48 0 0 1 118.9 303.7L125.99 300.55A124.72 124.72 0 0 0 139.01 323.18Z" fill="#A5CDE3"/>
<path d="M139.01 323.18A124.72 124.72 0 0 1 125.99 300.55L133.08 297.41A116.96 116.96 0 0 0 145.29 318.63Z" fill="#8CC0DD"/>
<path d="M145.29 318.63A116.96 116.96 0 0 1 133.08 297.41L140.17 294.26A109.2 109.2 0 0 0 151.57 314.08Z" fill="#4695C8"/>
<path d="M55.06 332A202.3 202.3 0 0 1 42.04 291.7L49.64 290.1A194.54 194.54 0 0 0 62.16 328.85Z" fill="#E4E9F3"/>
<path d="M62.16 328.85A194.54 194.54 0 0 1 49.64 290.1L57.23 288.5A186.78 186.78 0 0 0 69.25 325.71Z" fill="#D7E7F5"/>
<path d="M69.25 325.71A186.78 186.78 0 0 1 57.23 288.5L64.82 286.9A179.03 179.03 0 0 0 76.34 322.56Z" fill="#D7E7F5"/>
<path d="M76.34 322.56A179.03 179.03 0 0 1 64.82 286.9L72.41 285.3A171.27 171.27 0 0 0 83.43 319.42Z" fill="#3484BF"/>
<path d="M83.43 319.42A171.27 171.27 0 0 1 72.41 285.3L80 283.7A163.51 163.51 0 0 0 90.53 316.28Z" fill="#72B2D8"/>
<path d="M90.53 316.28A163.51 163.51 0 0 1 80 283.7L87.59 282.11A155.75 155.75 0 0 0 97.62 313.13Z" fill="#CBDEF1"/>
<path d="M97.62 313.13A155.75 155.75 0 0 1 87.59 282.11L95.19 280.51A147.99 147.99 0 0 0 104.71 309.99Z" fill="#4695C8"/>
<path d="M104.71 309.99A147.99 147.99 0 0 1 95.19 280.51L102.78 278.91A140.23 140.23 0 0 0 111.8 306.84Z" fill="#3484BF"/>
<path d="M111.8 306.84A140.23 140.23 0 0 1 102.78 278.91L110.37 277.31A132.48 132.48 0 0 0 118.9 303.7Z" fill="#4695C8"/>
<path d="M118.9 303.7A132.48 132.48 0 0 1 110.37 277.31L117.96 275.71A124.72 124.72 0 0 0 125.99 300.55Z" fill="#5BA3D0"/>
<path d="M125.99 300.55A124.72 124.72 0 0 1 117.96 275.71L125.55 274.11A116.96 116.96 0 0 0 133.08 297.41Z" fill="#8CC0DD"/>
<path d="M133.08 297.41A116.96 116.96 0 0 1 125.55 274.11L133.15 272.51A109.2 109.2 0 0 0 140.17 294.26Z" fill="#4695C8"/>
<path d="M42.04 291.7A202.3 202.3 0 0 1 37.7 249.58L45.46 249.59A194.54 194.54 0 0 0 49.64 290.1Z" fill="#4695C8"/>
<path d="M49.64 290.1A194.54 194.54 0 0 1 45.46 249.59L53.22 249.61A186.78 186.78 0 0 0 57.23 288.5Z" fill="#4695C8"/>
<path d="M57.23 288.5A186.78 186.78 0 0 1 53.22 249.61L60.98 249.63A179.03 179.03 0 0 0 64.82 286.9Z" fill="#72B2D8"/>
<path d="M64.82 286.9A179.03 179.03 0 0 1 60.98 249.63L68.73 249.64A171.27 171.27 0 0 0 72.41 285.3Z" fill="#BAD6EB"/>
<path d="M72.41 285.3A171.27 171.27 0 0 1 68.73 249.64L76.49 249.66A163.51 163.51 0 0 0 80 283.7Z" fill="#3484BF"/>
<path d="M80 283.7A163.51 163.51 0 0 1 76.49 249.66L84.25 249.67A155.75 155.75 0 0 0 87.59 282.11Z" fill="#2373B6"/>
<path d="M87.59 282.11A155.75 155.75 0 0 1 84.25 249.67L92.01 249.69A147.99 147.99 0 0 0 95.19 280.51Z" fill="#1663AA"/>
<path d="M95.19 280.51A147.99 147.99 0 0 1 92.01 249.69L99.77 249.71A140.23 140.23 0 0 0 102.78 278.91Z" fill="#09529D"/>
<path d="M102.78 278.91A140.23 140.23 0 0 1 99.77 249.71L107.53 249.72A132.48 132.48 0 0 0 110.37 277.31Z" fill="#D7E7F5"/>
<path d="M110.37 277.31A132.48 132.48 0 0 1 107.53 249.72L115.28 249.74A124.72 124.72 0 0 0 117.96 275.71Z" fill="#BAD6EB"/>
<path d="M117.96 275.71A124.72 124.72 0 0 1 115.28 249.74L123.04 249.76A116.96 116.96 0 0 0 125.55 274.11Z" fill="#3484BF"/>
<path d="M125.55 274.11A116.96 116.96 0 0 1 123.04 249.76L130.8 249.77A109.2 109.2 0 0 0 133.15 272.51Z" fill="#1663AA"/>
<path d="M37.7 249.58A202.3 202.3 0 0 1 42.22 207.47L49.81 209.1A194.54 194.54 0 0 0 45.46 249.59Z" fill="#FCAE92"/>
<path d="M45.46 249.59A194.54 194.54 0 0 1 49.81 209.1L57.39 210.73A186.78 186.78 0 0 0 53.22 249.61Z" fill="#E4E9F3"/>
<path d="M53.22 249.61A186.78 186.78 0 0 1 57.39 210.73L64.98 212.36A179.03 179.03 0 0 0 60.98 249.63Z" fill="#8CC0DD"/>
<path d="M60.98 249.63A179.03 179.03 0 0 1 64.98 212.36L72.56 213.99A171.27 171.27 0 0 0 68.73 249.64Z" fill="#5BA3D0"/>
<path d="M68.73 249.64A171.27 171.27 0 0 1 72.56 213.99L80.15 215.63A163.51 163.51 0 0 0 76.49 249.66Z" fill="#2373B6"/>
<path d="M76.49 249.66A163.51 163.51 0 0 1 80.15 215.63L87.73 217.26A155.75 155.75 0 0 0 84.25 249.67Z" fill="#BAD6EB"/>
<path d="M84.25 249.67A155.75 155.75 0 0 1 87.73 217.26L95.32 218.89A147.99 147.99 0 0 0 92.01 249.69Z" fill="#1663AA"/>
<path d="M92.01 249.69A147.99 147.99 0 0 1 95.32 218.89L102.9 220.52A140.23 140.23 0 0 0 99.77 249.71Z" fill="#084184"/>
<path d="M99.77 249.71A140.23 140.23 0 0 1 102.9 220.52L110.49 222.15A132.48 132.48 0 0 0 107.53 249.72Z" fill="#F6E3DB"/>
<path d="M107.53 249.72A132.48 132.48 0 0 1 110.49 222.15L118.07 223.78A124.72 124.72 0 0 0 115.28 249.74Z" fill="#5BA3D0"/>
<path d="M115.28 249.74A124.72 124.72 0 0 1 118.07 223.78L125.66 225.41A116.96 116.96 0 0 0 123.04 249.76Z" fill="#3484BF"/>
<path d="M123.04 249.76A116.96 116.96 0 0 1 125.66 225.41L133.24 227.04A109.2 109.2 0 0 0 130.8 249.77Z" fill="#1663AA"/>
<path d="M42.22 207.47A202.3 202.3 0 0 1 55.41 167.23L62.49 170.4A194.54 194.54 0 0 0 49.81 209.1Z" fill="#FDD6C4"/>
<path d="M49.81 209.1A194.54 194.54 0 0 1 62.49 170.4L69.57 173.58A186.78 186.78 0 0 0 57.39 210.73Z" fill="#D7E7F5"/>
<path d="M57.39 210.73A186.78 186.78 0 0 1 69.57 173.58L76.65 176.75A179.03 179.03 0 0 0 64.98 212.36Z" fill="#5BA3D0"/>
<path d="M64.98 212.36A179.03 179.03 0 0 1 76.65 176.75L83.73 179.92A171.27 171.27 0 0 0 72.56 213.99Z" fill="#FDD6C4"/>
<path d="M72.56 213.99A171.27 171.27 0 0 1 83.73 179.92L90.8 183.1A163.51 163.51 0 0 0 80.15 215.63Z" fill="#D7E7F5"/>
<path d="M80.15 215.63A163.51 163.51 0 0 1 90.8 183.1L97.88 186.27A155.75 155.75 0 0 0 87.73 217.26Z" fill="#BAD6EB"/>
<path d="M87.73 217.26A155.75 155.75 0 0 1 97.88 186.27L104.96 189.45A147.99 147.99 0 0 0 95.32 218.89Z" fill="#09529D"/>
<path d="M95.32 218.89A147.99 147.99 0 0 1 104.96 189.45L112.04 192.62A140.23 140.23 0 0 0 102.9 220.52Z" fill="#09529D"/>
<path d="M102.9 220.52A140.23 140.23 0 0 1 112.04 192.62L119.12 195.8A132.48 132.48 0 0 0 110.49 222.15Z" fill="#FDD6C4"/>
<path d="M110.49 222.15A132.48 132.48 0 0 1 119.12 195.8L126.2 198.97A124.72 124.72 0 0 0 118.07 223.78Z" fill="#A5CDE3"/>
<path d="M118.07 223.78A124.72 124.72 0 0 1 126.2 198.97L133.28 202.15A116.96 116.96 0 0 0 125.66 225.41Z" fill="#A5CDE3"/>
<path d="M125.66 225.41A116.96 116.96 0 0 1 133.28 202.15L140.36 205.32A109.2 109.2 0 0 0 133.24 227.04Z" fill="#4695C8"/>
<path d="M55.41 167.23A202.3 202.3 0 0 1 76.69 130.61L82.95 135.19A194.54 194.54 0 0 0 62.49 170.4Z" fill="#72B2D8"/>
<path d="M62.49 170.4A194.54 194.54 0 0 1 82.95 135.19L89.21 139.77A186.78 186.78 0 0 0 69.57 173.58Z" fill="#FDD6C4"/>
<path d="M69.57 173.58A186.78 186.78 0 0 1 89.21 139.77L95.47 144.35A179.03 179.03 0 0 0 76.65 176.75Z" fill="#A5CDE3"/>
<path d="M76.65 176.75A179.03 179.03 0 0 1 95.47 144.35L101.74 148.93A171.27 171.27 0 0 0 83.73 179.92Z" fill="#FB7050"/>
<path d="M83.73 179.92A171.27 171.27 0 0 1 101.74 148.93L108 153.5A163.51 163.51 0 0 0 90.8 183.1Z" fill="#1663AA"/>
<path d="M90.8 183.1A163.51 163.51 0 0 1 108 153.5L114.26 158.08A155.75 155.75 0 0 0 97.88 186.27Z" fill="#5BA3D0"/>
<path d="M97.88 186.27A155.75 155.75 0 0 1 114.26 158.08L120.53 162.66A147.99 147.99 0 0 0 104.96 189.45Z" fill="#09529D"/>
<path d="M104.96 189.45A147.99 147.99 0 0 1 120.53 162.66L126.79 167.24A140.23 140.23 0 0 0 112.04 192.62Z" fill="#084184"/>
<path d="M112.04 192.62A140.23 140.23 0 0 1 126.79 167.24L133.05 171.82A132.48 132.48 0 0 0 119.12 195.8Z" fill="#2373B6"/>
<path d="M119.12 195.8A132.48 132.48 0 0 1 133.05 171.82L139.32 176.4A124.72 124.72 0 0 0 126.2 198.97Z" fill="#5BA3D0"/>
<path d="M126.2 198.97A124.72 124.72 0 0 1 139.32 176.4L145.58 180.98A116.96 116.96 0 0 0 133.28 202.15Z" fill="#D7E7F5"/>
<path d="M133.28 202.15A116.96 116.96 0 0 1 145.58 180.98L151.84 185.56A109.2 109.2 0 0 0 140.36 205.32Z" fill="#72B2D8"/>
<path d="M76.69 130.61A202.3 202.3 0 0 1 105.12 99.23L110.29 105.01A194.54 194.54 0 0 0 82.95 135.19Z" fill="#FCC3AB"/>
<path d="M82.95 135.19A194.54 194.54 0 0 1 110.29 105.01L115.46 110.79A186.78 186.78 0 0 0 89.21 139.77Z" fill="#2373B6"/>
<path d="M89.21 139.77A186.78 186.78 0 0 1 115.46 110.79L120.64 116.57A179.03 179.03 0 0 0 95.47 144.35Z" fill="#5BA3D0"/>
<path d="M95.47 144.35A179.03 179.03 0 0 1 120.64 116.57L125.81 122.36A171.27 171.27 0 0 0 101.74 148.93Z" fill="#BAD6EB"/>
<path d="M101.74 148.93A171.27 171.27 0 0 1 125.81 122.36L130.98 128.14A163.51 163.51 0 0 0 108 153.5Z" fill="#D7E7F5"/>
<path d="M108 153.5A163.51 163.51 0 0 1 130.98 128.14L136.16 133.92A155.75 155.75 0 0 0 114.26 158.08Z" fill="#72B2D8"/>
<path d="M114.26 158.08A155.75 155.75 0 0 1 136.16 133.92L141.33 139.7A147.99 147.99 0 0 0 120.53 162.66Z" fill="#4695C8"/>
<path d="M120.53 162.66A147.99 147.99 0 0 1 141.33 139.7L146.5 145.49A140.23 140.23 0 0 0 126.79 167.24Z" fill="#1663AA"/>
<path d="M126.79 167.24A140.23 140.23 0 0 1 146.5 145.49L151.67 151.27A132.48 132.48 0 0 0 133.05 171.82Z" fill="#09529D"/>
<path d="M133.05 171.82A132.48 132.48 0 0 1 151.67 151.27L156.85 157.05A124.72 124.72 0 0 0 139.32 176.4Z" fill="#1663AA"/>
<path d="M139.32 176.4A124.72 124.72 0 0 1 156.85 157.05L162.02 162.83A116.96 116.96 0 0 0 145.58 180.98Z" fill="#FB7050"/>
<path d="M145.58 180.98A116.96 116.96 0 0 1 162.02 162.83L167.19 168.61A109.2 109.2 0 0 0 151.84 185.56Z" fill="#5BA3D0"/>
<path d="M105.12 99.23A202.3 202.3 0 0 1 139.46 74.45L143.32 81.18A194.54 194.54 0 0 0 110.29 105.01Z" fill="#BAD6EB"/>
<path d="M110.29 105.01A194.54 194.54 0 0 1 143.32 81.18L147.17 87.92A186.78 186.78 0 0 0 115.46 110.79Z" fill="#FDD6C4"/>
<path d="M115.46 110.79A186.78 186.78 0 0 1 147.17 87.92L151.03 94.65A179.03 179.03 0 0 0 120.64 116.57Z" fill="#8CC0DD"/>
<path d="M120.64 116.57A179.03 179.03 0 0 1 151.03 94.65L154.88 101.38A171.27 171.27 0 0 0 125.81 122.36Z" fill="#CBDEF1"/>
<path d="M125.81 122.36A171.27 171.27 0 0 1 154.88 101.38L158.74 108.11A163.51 163.51 0 0 0 130.98 128.14Z" fill="#A5CDE3"/>
<path d="M130.98 128.14A163.51 163.51 0 0 1 158.74 108.11L162.6 114.85A155.75 155.75 0 0 0 136.16 133.92Z" fill="#D7E7F5"/>
<path d="M136.16 133.92A155.75 155.75 0 0 1 162.6 114.85L166.45 121.58A147.99 147.99 0 0 0 141.33 139.7Z" fill="#3484BF"/>
<path d="M141.33 139.7A147.99 147.99 0 0 1 166.45 121.58L170.31 128.31A140.23 140.23 0 0 0 146.5 145.49Z" fill="#1663AA"/>
<path d="M146.5 145.49A140.23 140.23 0 0 1 170.31 128.31L174.16 135.04A132.48 132.48 0 0 0 151.67 151.27Z" fill="#09529D"/>
<path d="M151.67 151.27A132.48 132.48 0 0 1 174.16 135.04L178.02 141.78A124.72 124.72 0 0 0 156.85 157.05Z" fill="#2373B6"/>
<path d="M156.85 157.05A124.72 124.72 0 0 1 178.02 141.78L181.87 148.51A116.96 116.96 0 0 0 162.02 162.83Z" fill="#FDD6C4"/>
<path d="M162.02 162.83A116.96 116.96 0 0 1 181.87 148.51L185.73 155.24A109.2 109.2 0 0 0 167.19 168.61Z" fill="#1663AA"/>
</g>
<path d="M320.93 176.68L305.96 190.24M334.42 195.14L316.95 205.28M305.96 190.24A89 89 0 0 1 316.95 205.28M311.85 197.48L306.6 201.31M343.77 215.99L318.4 224.31M306.6 201.31A82.5 82.5 0 0 1 318.4 224.31M303.89 161.44L282.42 191.2M313.41 212.35L304.51 216.91M282.42 191.2A72.5 72.5 0 0 1 304.51 216.91M348.58 238.34L331.97 240.13M348.62 261.2L332.01 259.49M331.97 240.13A92.5 92.5 0 0 1 332.01 259.49M294.99 202.75L289.68 207.31M332.5 249.81L305.5 249.86M289.68 207.31A65.5 65.5 0 0 1 305.5 249.86M343.91 283.57L326.59 277.98M334.65 304.47L318.87 295.39M326.59 277.98A91 91 0 0 1 318.87 295.39M301.39 227.17L293.43 230.13M323.19 286.89L292.11 273.1M293.43 230.13A57 57 0 0 1 292.11 273.1M321.23 322.98L303.97 307.47M304.26 338.29L290.61 319.53M303.97 307.47A86 86 0 0 1 290.61 319.53M297.61 313.85L291.58 307.17M284.47 349.73L271.36 320.33M291.58 307.17A77 77 0 0 1 271.36 320.33M296.97 251.75L286.48 251.43M281.99 314.55L265.36 288.98M286.48 251.43A46.5 46.5 0 0 1 265.36 288.98M240 359.2L240 343M217.27 356.81L220.64 340.96M240 343A93 93 0 0 1 220.64 340.96M262.73 356.81L258.22 335.58M230.27 342.49L230.84 337.02M258.22 335.58A87.5 87.5 0 0 1 230.84 337.02M244.59 337.38L243.85 323.4M195.53 349.73L210.07 317.13M243.85 323.4A73.5 73.5 0 0 1 210.07 317.13M280.53 272.8L279.22 272.06M226.59 322.27L231.79 294.24M279.22 272.06A45 45 0 0 1 231.79 294.24M175.74 338.29L190.27 318.32M158.77 322.98L177.14 306.47M190.27 318.32A84.5 84.5 0 0 1 177.14 306.47M145.35 304.47L162.43 294.64M136.09 283.57L154.83 277.51M162.43 294.64A89.5 89.5 0 0 1 154.83 277.51M183.4 312.74L184.74 311.26M158.18 286.28L164.58 283.44M184.74 311.26A82.5 82.5 0 0 1 164.58 283.44M131.38 261.2L164.9 257.75M131.42 238.34L164.93 241.94M164.9 257.75A75.5 75.5 0 0 1 164.93 241.94M164.5 249.84L165 249.84M136.23 215.99L168.73 226.64M165 249.84A75 75 0 0 1 168.73 226.64M173.2 298.41L189.8 286.38M165.95 238.1L178.79 240.16M189.8 286.38A62 62 0 0 1 178.79 240.16M159.07 176.68L181.45 196.96M176.11 161.44L193.78 185.93M181.45 196.96A79 79 0 0 1 193.78 185.93M145.58 195.14L179.04 214.58M187.33 191.12L192.99 197.46M179.04 214.58A70.5 70.5 0 0 1 192.99 197.46M179.69 264.37L193.79 261.01M185.34 205.47L203.18 220M193.79 261.01A47.5 47.5 0 0 1 203.18 220M259.06 290.76L248.05 267.21M193.7 239.41L221.48 245.76M248.05 267.21A19 19 0 0 1 221.48 245.76" fill="none" stroke="#000" stroke-width="1.25" stroke-linecap="butt" stroke-linejoin="miter"/>
<path d="M323.19 104.75L309.74 97.04L305.88 103.78L319.33 111.48M327.04 98.01L311.86 89.32L306.07 99.42L307.81 100.41M330.9 91.28L314.84 82.09L308.1 93.87L308.97 94.37M334.75 84.55L316.53 74.11L309.3 86.74L311.47 87.98M338.61 77.82L309.11 60.92L301.64 73.96L312.92 80.42M315.48 118.21L307.23 113.49L303.38 120.22L311.62 124.94M307.76 131.68L294.75 124.22L290.89 130.95L303.91 138.41M300.05 145.14L286.17 137.19L282.31 143.92L296.2 151.87M292.82 127.59L288.48 125.1L280.77 138.57L284.24 140.56M305.3 116.86L290.99 108.66L279.42 128.85L284.63 131.84M305.37 67.44L283.68 55.02L256.57 102.36L285.2 118.76" fill="none" stroke="#4a4a4a" stroke-width="0.9" stroke-linejoin="miter"/>
<path d="M240.4 38.2L240.4 249.6M232.4 139.3L240.4 139.3M235.9 157.06L240.4 157.06M232.4 174.82L240.4 174.82M235.9 192.58L240.4 192.58M232.4 210.34L240.4 210.34M235.9 228.1L240.4 228.1M232.4 245.86L240.4 245.86" fill="none" stroke="#555" stroke-width="1"/>
<g font-size="11.3" text-anchor="end" fill="#000" stroke="#000" stroke-width="0.15">
<text x="226.8" y="143.35">0</text>
<text x="226.8" y="178.87">200</text>
<text x="226.8" y="214.39">400</text>
<text x="226.8" y="249.91">600</text>
</g>
<g font-size="12.0" fill="#000" stroke="#000" stroke-width="0.22">
<text transform="translate(359.62 84.19) rotate(-54.19)" text-anchor="start" dy="0.36em">2051</text>
<text transform="translate(391.7 112.56) rotate(-42.18)" text-anchor="start" dy="0.36em">2055</text>
<text transform="translate(417.22 147.02) rotate(-30.16)" text-anchor="start" dy="0.36em">2057</text>
<text transform="translate(435.02 186.09) rotate(-18.14)" text-anchor="start" dy="0.36em">2058</text>
<text transform="translate(444.31 228.07) rotate(-6.13)" text-anchor="start" dy="0.36em">2054</text>
<text transform="translate(444.62 271.1) rotate(5.89)" text-anchor="start" dy="0.36em">2064</text>
<text transform="translate(435.94 313.3) rotate(17.9)" text-anchor="start" dy="0.36em">2060</text>
<text transform="translate(418.6 352.79) rotate(29.92)" text-anchor="start" dy="0.36em">2071</text>
<text transform="translate(393.38 387.79) rotate(41.94)" text-anchor="start" dy="0.36em">2061</text>
<text transform="translate(361.37 416.75) rotate(53.95)" text-anchor="start" dy="0.36em">2072</text>
<text transform="translate(323.99 438.37) rotate(65.97)" text-anchor="start" dy="0.36em">2067</text>
<text transform="translate(282.93 451.68) rotate(77.98)" text-anchor="start" dy="0.36em">2052</text>
<text transform="translate(240 456.1) rotate(90)" text-anchor="start" dy="0.36em">2066</text>
<text transform="translate(197.12 451.44) rotate(-77.98)" text-anchor="end" dy="0.36em">2068</text>
<text transform="translate(156.2 437.92) rotate(-65.97)" text-anchor="end" dy="0.36em">2065</text>
<text transform="translate(119.05 416.18) rotate(-53.95)" text-anchor="end" dy="0.36em">2053</text>
<text transform="translate(87.29 387.19) rotate(-41.94)" text-anchor="end" dy="0.36em">2062</text>
<text transform="translate(62.3 352.27) rotate(-29.92)" text-anchor="end" dy="0.36em">2056</text>
<text transform="translate(45.15 312.95) rotate(-17.9)" text-anchor="end" dy="0.36em">2070</text>
<text transform="translate(36.56 270.98) rotate(-5.89)" text-anchor="end" dy="0.36em">2059</text>
<text transform="translate(36.88 228.19) rotate(6.13)" text-anchor="end" dy="0.36em">2069</text>
<text transform="translate(46.06 186.45) rotate(18.14)" text-anchor="end" dy="0.36em">2063</text>
<text transform="translate(63.68 147.54) rotate(30.16)" text-anchor="end" dy="0.36em">2073</text>
<text transform="translate(88.95 113.16) rotate(42.18)" text-anchor="end" dy="0.36em">2074</text>
<text transform="translate(120.79 84.76) rotate(54.19)" text-anchor="end" dy="0.36em">2075</text>
</g>
<g font-size="9.0" fill="#000" stroke="#000" stroke-width="0.18">
<text transform="translate(146.16 75.08) rotate(-29.8)" dy="0.05em">Aug</text>
<text transform="translate(150.02 81.82) rotate(-29.8)" dy="0.05em">Jul</text>
<text transform="translate(153.87 88.55) rotate(-29.8)" dy="0.05em">Sep</text>
<text transform="translate(157.73 95.28) rotate(-29.8)" dy="0.05em">Mar</text>
<text transform="translate(161.59 102.01) rotate(-29.8)" dy="0.05em">Oct</text>
<text transform="translate(165.44 108.75) rotate(-29.8)" dy="0.05em">Feb</text>
<text transform="translate(169.3 115.48) rotate(-29.8)" dy="0.05em">Nov</text>
<text transform="translate(173.15 122.21) rotate(-29.8)" dy="0.05em">May</text>
<text transform="translate(177.01 128.94) rotate(-29.8)" dy="0.05em">Dec</text>
<text transform="translate(180.86 135.68) rotate(-29.8)" dy="0.05em">Apr</text>
<text transform="translate(184.72 142.41) rotate(-29.8)" dy="0.05em">Jun</text>
<text transform="translate(188.58 149.14) rotate(-29.8)" dy="0.05em">Jan</text>
</g>
<text x="542.4" y="26.3" font-size="21.3" text-anchor="end">Rainfall 2051- 2075 (mm)</text>
<text x="35" y="63.1" font-size="22">(a)</text>
<g shape-rendering="crispEdges">
<rect x="481.8" y="455.65" width="29.5" height="14.15" fill="#08306B"/>
<rect x="481.8" y="441.49" width="29.5" height="14.65" fill="#084184"/>
<rect x="481.8" y="427.34" width="29.5" height="14.65" fill="#09529D"/>
<rect x="481.8" y="413.19" width="29.5" height="14.65" fill="#1663AA"/>
<rect x="481.8" y="399.03" width="29.5" height="14.65" fill="#2373B6"/>
<rect x="481.8" y="384.88" width="29.5" height="14.65" fill="#3484BF"/>
<rect x="481.8" y="370.73" width="29.5" height="14.65" fill="#4695C8"/>
<rect x="481.8" y="356.57" width="29.5" height="14.65" fill="#5BA3D0"/>
<rect x="481.8" y="342.42" width="29.5" height="14.65" fill="#72B2D8"/>
<rect x="481.8" y="328.27" width="29.5" height="14.65" fill="#8CC0DD"/>
<rect x="481.8" y="314.11" width="29.5" height="14.65" fill="#A5CDE3"/>
<rect x="481.8" y="299.96" width="29.5" height="14.65" fill="#BAD6EB"/>
<rect x="481.8" y="285.81" width="29.5" height="14.65" fill="#CBDEF1"/>
<rect x="481.8" y="271.65" width="29.5" height="14.65" fill="#D7E7F5"/>
<rect x="481.8" y="257.5" width="29.5" height="14.65" fill="#E4E9F3"/>
<rect x="481.8" y="243.35" width="29.5" height="14.65" fill="#F6E3DB"/>
<rect x="481.8" y="229.19" width="29.5" height="14.65" fill="#FDD6C4"/>
<rect x="481.8" y="215.04" width="29.5" height="14.65" fill="#FCC3AB"/>
<rect x="481.8" y="200.89" width="29.5" height="14.65" fill="#FCAE92"/>
<rect x="481.8" y="186.73" width="29.5" height="14.65" fill="#FC997A"/>
<rect x="481.8" y="172.58" width="29.5" height="14.65" fill="#FC8464"/>
<rect x="481.8" y="158.43" width="29.5" height="14.65" fill="#FB7050"/>
<rect x="481.8" y="144.27" width="29.5" height="14.65" fill="#F6583F"/>
<rect x="481.8" y="130.12" width="29.5" height="14.65" fill="#F0402F"/>
<rect x="481.8" y="115.97" width="29.5" height="14.65" fill="#E02D26"/>
<rect x="481.8" y="101.81" width="29.5" height="14.65" fill="#CD1A1E"/>
<rect x="481.8" y="87.66" width="29.5" height="14.65" fill="#BA1419"/>
<rect x="481.8" y="73.51" width="29.5" height="14.65" fill="#A60F15"/>
<rect x="481.8" y="59.35" width="29.5" height="14.65" fill="#870811"/>
<rect x="481.8" y="45.2" width="29.5" height="14.65" fill="#67000D"/>
</g>
<rect x="481.8" y="45.2" width="29.5" height="424.6" fill="none" stroke="#000" stroke-width="1"/>
<g font-size="11.3" fill="#000" stroke="#000" stroke-width="0.15">
<text x="523.0" y="473.85">0</text>
<text x="523.0" y="388.93">73</text>
<text x="523.0" y="304.01">146</text>
<text x="523.0" y="219.09">218</text>
<text x="523.0" y="134.17">291</text>
<text x="523.0" y="49.25">364</text>
</g>
<path d="M511.3 469.8L518.8 469.8M511.3 384.88L518.8 384.88M511.3 299.96L518.8 299.96M511.3 215.04L518.8 215.04M511.3 130.12L518.8 130.12M511.3 45.2L518.8 45.2" stroke="#000" stroke-width="1.2" fill="none"/>
<g stroke="#000" stroke-width="1.0" stroke-linejoin="miter">
<path d="M340.54 559.15A202.3 202.3 0 0 1 374.88 583.93L369.71 589.71A194.54 194.54 0 0 0 336.68 565.88Z" fill="#FCC3AB"/>
<path d="M336.68 565.88A194.54 194.54 0 0 1 369.71 589.71L364.54 595.49A186.78 186.78 0 0 0 332.83 572.62Z" fill="#4695C8"/>
<path d="M332.83 572.62A186.78 186.78 0 0 1 364.54 595.49L359.36 601.27A179.03 179.03 0 0 0 328.97 579.35Z" fill="#A5CDE3"/>
<path d="M328.97 579.35A179.03 179.03 0 0 1 359.36 601.27L354.19 607.06A171.27 171.27 0 0 0 325.12 586.08Z" fill="#5BA3D0"/>
<path d="M325.12 586.08A171.27 171.27 0 0 1 354.19 607.06L349.02 612.84A163.51 163.51 0 0 0 321.26 592.81Z" fill="#CBDEF1"/>
<path d="M321.26 592.81A163.51 163.51 0 0 1 349.02 612.84L343.84 618.62A155.75 155.75 0 0 0 317.4 599.55Z" fill="#72B2D8"/>
<path d="M317.4 599.55A155.75 155.75 0 0 1 343.84 618.62L338.67 624.4A147.99 147.99 0 0 0 313.55 606.28Z" fill="#3484BF"/>
<path d="M313.55 606.28A147.99 147.99 0 0 1 338.67 624.4L333.5 630.19A140.23 140.23 0 0 0 309.69 613.01Z" fill="#084184"/>
<path d="M309.69 613.01A140.23 140.23 0 0 1 333.5 630.19L328.33 635.97A132.48 132.48 0 0 0 305.84 619.74Z" fill="#2373B6"/>
<path d="M305.84 619.74A132.48 132.48 0 0 1 328.33 635.97L323.15 641.75A124.72 124.72 0 0 0 301.98 626.48Z" fill="#09529D"/>
<path d="M301.98 626.48A124.72 124.72 0 0 1 323.15 641.75L317.98 647.53A116.96 116.96 0 0 0 298.13 633.21Z" fill="#BAD6EB"/>
<path d="M298.13 633.21A116.96 116.96 0 0 1 317.98 647.53L312.81 653.31A109.2 109.2 0 0 0 294.27 639.94Z" fill="#2373B6"/>
<path d="M374.88 583.93A202.3 202.3 0 0 1 403.31 615.31L397.05 619.89A194.54 194.54 0 0 0 369.71 589.71Z" fill="#FDD6C4"/>
<path d="M369.71 589.71A194.54 194.54 0 0 1 397.05 619.89L390.79 624.47A186.78 186.78 0 0 0 364.54 595.49Z" fill="#72B2D8"/>
<path d="M364.54 595.49A186.78 186.78 0 0 1 390.79 624.47L384.53 629.05A179.03 179.03 0 0 0 359.36 601.27Z" fill="#5BA3D0"/>
<path d="M359.36 601.27A179.03 179.03 0 0 1 384.53 629.05L378.26 633.63A171.27 171.27 0 0 0 354.19 607.06Z" fill="#1663AA"/>
<path d="M354.19 607.06A171.27 171.27 0 0 1 378.26 633.63L372 638.2A163.51 163.51 0 0 0 349.02 612.84Z" fill="#8CC0DD"/>
<path d="M349.02 612.84A163.51 163.51 0 0 1 372 638.2L365.74 642.78A155.75 155.75 0 0 0 343.84 618.62Z" fill="#4695C8"/>
<path d="M343.84 618.62A155.75 155.75 0 0 1 365.74 642.78L359.47 647.36A147.99 147.99 0 0 0 338.67 624.4Z" fill="#3484BF"/>
<path d="M338.67 624.4A147.99 147.99 0 0 1 359.47 647.36L353.21 651.94A140.23 140.23 0 0 0 333.5 630.19Z" fill="#09529D"/>
<path d="M333.5 630.19A140.23 140.23 0 0 1 353.21 651.94L346.95 656.52A132.48 132.48 0 0 0 328.33 635.97Z" fill="#3484BF"/>
<path d="M328.33 635.97A132.48 132.48 0 0 1 346.95 656.52L340.68 661.1A124.72 124.72 0 0 0 323.15 641.75Z" fill="#2373B6"/>
<path d="M323.15 641.75A124.72 124.72 0 0 1 340.68 661.1L334.42 665.68A116.96 116.96 0 0 0 317.98 647.53Z" fill="#8CC0DD"/>
<path d="M317.98 647.53A116.96 116.96 0 0 1 334.42 665.68L328.16 670.26A109.2 109.2 0 0 0 312.81 653.31Z" fill="#3484BF"/>
<path d="M403.31 615.31A202.3 202.3 0 0 1 424.59 651.93L417.51 655.1A194.54 194.54 0 0 0 397.05 619.89Z" fill="#FDD6C4"/>
<path d="M397.05 619.89A194.54 194.54 0 0 1 417.51 655.1L410.43 658.28A186.78 186.78 0 0 0 390.79 624.47Z" fill="#5BA3D0"/>
<path d="M390.79 624.47A186.78 186.78 0 0 1 410.43 658.28L403.35 661.45A179.03 179.03 0 0 0 384.53 629.05Z" fill="#A5CDE3"/>
<path d="M384.53 629.05A179.03 179.03 0 0 1 403.35 661.45L396.27 664.62A171.27 171.27 0 0 0 378.26 633.63Z" fill="#4695C8"/>
<path d="M378.26 633.63A171.27 171.27 0 0 1 396.27 664.62L389.2 667.8A163.51 163.51 0 0 0 372 638.2Z" fill="#BAD6EB"/>
<path d="M372 638.2A163.51 163.51 0 0 1 389.2 667.8L382.12 670.97A155.75 155.75 0 0 0 365.74 642.78Z" fill="#F6E3DB"/>
<path d="M365.74 642.78A155.75 155.75 0 0 1 382.12 670.97L375.04 674.15A147.99 147.99 0 0 0 359.47 647.36Z" fill="#72B2D8"/>
<path d="M359.47 647.36A147.99 147.99 0 0 1 375.04 674.15L367.96 677.32A140.23 140.23 0 0 0 353.21 651.94Z" fill="#1663AA"/>
<path d="M353.21 651.94A140.23 140.23 0 0 1 367.96 677.32L360.88 680.5A132.48 132.48 0 0 0 346.95 656.52Z" fill="#09529D"/>
<path d="M346.95 656.52A132.48 132.48 0 0 1 360.88 680.5L353.8 683.67A124.72 124.72 0 0 0 340.68 661.1Z" fill="#3484BF"/>
<path d="M340.68 661.1A124.72 124.72 0 0 1 353.8 683.67L346.72 686.85A116.96 116.96 0 0 0 334.42 665.68Z" fill="#E4E9F3"/>
<path d="M334.42 665.68A116.96 116.96 0 0 1 346.72 686.85L339.64 690.02A109.2 109.2 0 0 0 328.16 670.26Z" fill="#A5CDE3"/>
<path d="M424.59 651.93A202.3 202.3 0 0 1 437.78 692.17L430.19 693.8A194.54 194.54 0 0 0 417.51 655.1Z" fill="#FC8464"/>
<path d="M417.51 655.1A194.54 194.54 0 0 1 430.19 693.8L422.61 695.43A186.78 186.78 0 0 0 410.43 658.28Z" fill="#8CC0DD"/>
<path d="M410.43 658.28A186.78 186.78 0 0 1 422.61 695.43L415.02 697.06A179.03 179.03 0 0 0 403.35 661.45Z" fill="#5BA3D0"/>
<path d="M403.35 661.45A179.03 179.03 0 0 1 415.02 697.06L407.44 698.69A171.27 171.27 0 0 0 396.27 664.62Z" fill="#4695C8"/>
<path d="M396.27 664.62A171.27 171.27 0 0 1 407.44 698.69L399.85 700.33A163.51 163.51 0 0 0 389.2 667.8Z" fill="#CBDEF1"/>
<path d="M389.2 667.8A163.51 163.51 0 0 1 399.85 700.33L392.27 701.96A155.75 155.75 0 0 0 382.12 670.97Z" fill="#5BA3D0"/>
<path d="M382.12 670.97A155.75 155.75 0 0 1 392.27 701.96L384.68 703.59A147.99 147.99 0 0 0 375.04 674.15Z" fill="#A5CDE3"/>
<path d="M375.04 674.15A147.99 147.99 0 0 1 384.68 703.59L377.1 705.22A140.23 140.23 0 0 0 367.96 677.32Z" fill="#1663AA"/>
<path d="M367.96 677.32A140.23 140.23 0 0 1 377.1 705.22L369.51 706.85A132.48 132.48 0 0 0 360.88 680.5Z" fill="#4695C8"/>
<path d="M360.88 680.5A132.48 132.48 0 0 1 369.51 706.85L361.93 708.48A124.72 124.72 0 0 0 353.8 683.67Z" fill="#3484BF"/>
<path d="M353.8 683.67A124.72 124.72 0 0 1 361.93 708.48L354.34 710.11A116.96 116.96 0 0 0 346.72 686.85Z" fill="#72B2D8"/>
<path d="M346.72 686.85A116.96 116.96 0 0 1 354.34 710.11L346.76 711.74A109.2 109.2 0 0 0 339.64 690.02Z" fill="#A5CDE3"/>
<path d="M437.78 692.17A202.3 202.3 0 0 1 442.3 734.28L434.54 734.29A194.54 194.54 0 0 0 430.19 693.8Z" fill="#E02D26"/>
<path d="M430.19 693.8A194.54 194.54 0 0 1 434.54 734.29L426.78 734.31A186.78 186.78 0 0 0 422.61 695.43Z" fill="#5BA3D0"/>
<path d="M422.61 695.43A186.78 186.78 0 0 1 426.78 734.31L419.02 734.33A179.03 179.03 0 0 0 415.02 697.06Z" fill="#3484BF"/>
<path d="M415.02 697.06A179.03 179.03 0 0 1 419.02 734.33L411.27 734.34A171.27 171.27 0 0 0 407.44 698.69Z" fill="#72B2D8"/>
<path d="M407.44 698.69A171.27 171.27 0 0 1 411.27 734.34L403.51 734.36A163.51 163.51 0 0 0 399.85 700.33Z" fill="#CBDEF1"/>
<path d="M399.85 700.33A163.51 163.51 0 0 1 403.51 734.36L395.75 734.37A155.75 155.75 0 0 0 392.27 701.96Z" fill="#D7E7F5"/>
<path d="M392.27 701.96A155.75 155.75 0 0 1 395.75 734.37L387.99 734.39A147.99 147.99 0 0 0 384.68 703.59Z" fill="#BAD6EB"/>
<path d="M384.68 703.59A147.99 147.99 0 0 1 387.99 734.39L380.23 734.41A140.23 140.23 0 0 0 377.1 705.22Z" fill="#09529D"/>
<path d="M377.1 705.22A140.23 140.23 0 0 1 380.23 734.41L372.47 734.42A132.48 132.48 0 0 0 369.51 706.85Z" fill="#1663AA"/>
<path d="M369.51 706.85A132.48 132.48 0 0 1 372.47 734.42L364.72 734.44A124.72 124.72 0 0 0 361.93 708.48Z" fill="#5BA3D0"/>
<path d="M361.93 708.48A124.72 124.72 0 0 1 364.72 734.44L356.96 734.46A116.96 116.96 0 0 0 354.34 710.11Z" fill="#72B2D8"/>
<path d="M354.34 710.11A116.96 116.96 0 0 1 356.96 734.46L349.2 734.47A109.2 109.2 0 0 0 346.76 711.74Z" fill="#5BA3D0"/>
<path d="M442.3 734.28A202.3 202.3 0 0 1 437.96 776.4L430.36 774.8A194.54 194.54 0 0 0 434.54 734.29Z" fill="#FC997A"/>
<path d="M434.54 734.29A194.54 194.54 0 0 1 430.36 774.8L422.77 773.2A186.78 186.78 0 0 0 426.78 734.31Z" fill="#5BA3D0"/>
<path d="M426.78 734.31A186.78 186.78 0 0 1 422.77 773.2L415.18 771.6A179.03 179.03 0 0 0 419.02 734.33Z" fill="#E4E9F3"/>
<path d="M419.02 734.33A179.03 179.03 0 0 1 415.18 771.6L407.59 770A171.27 171.27 0 0 0 411.27 734.34Z" fill="#4695C8"/>
<path d="M411.27 734.34A171.27 171.27 0 0 1 407.59 770L400 768.4A163.51 163.51 0 0 0 403.51 734.36Z" fill="#FCAE92"/>
<path d="M403.51 734.36A163.51 163.51 0 0 1 400 768.4L392.41 766.81A155.75 155.75 0 0 0 395.75 734.37Z" fill="#8CC0DD"/>
<path d="M395.75 734.37A155.75 155.75 0 0 1 392.41 766.81L384.81 765.21A147.99 147.99 0 0 0 387.99 734.39Z" fill="#2373B6"/>
<path d="M387.99 734.39A147.99 147.99 0 0 1 384.81 765.21L377.22 763.61A140.23 140.23 0 0 0 380.23 734.41Z" fill="#084184"/>
<path d="M380.23 734.41A140.23 140.23 0 0 1 377.22 763.61L369.63 762.01A132.48 132.48 0 0 0 372.47 734.42Z" fill="#E4E9F3"/>
<path d="M372.47 734.42A132.48 132.48 0 0 1 369.63 762.01L362.04 760.41A124.72 124.72 0 0 0 364.72 734.44Z" fill="#4695C8"/>
<path d="M364.72 734.44A124.72 124.72 0 0 1 362.04 760.41L354.45 758.81A116.96 116.96 0 0 0 356.96 734.46Z" fill="#2373B6"/>
<path d="M356.96 734.46A116.96 116.96 0 0 1 354.45 758.81L346.85 757.21A109.2 109.2 0 0 0 349.2 734.47Z" fill="#4695C8"/>
<path d="M437.96 776.4A202.3 202.3 0 0 1 424.94 816.7L417.84 813.55A194.54 194.54 0 0 0 430.36 774.8Z" fill="#F6583F"/>
<path d="M430.36 774.8A194.54 194.54 0 0 1 417.84 813.55L410.75 810.41A186.78 186.78 0 0 0 422.77 773.2Z" fill="#F6E3DB"/>
<path d="M422.77 773.2A186.78 186.78 0 0 1 410.75 810.41L403.66 807.26A179.03 179.03 0 0 0 415.18 771.6Z" fill="#A5CDE3"/>
<path d="M415.18 771.6A179.03 179.03 0 0 1 403.66 807.26L396.57 804.12A171.27 171.27 0 0 0 407.59 770Z" fill="#8CC0DD"/>
<path d="M407.59 770A171.27 171.27 0 0 1 396.57 804.12L389.47 800.98A163.51 163.51 0 0 0 400 768.4Z" fill="#72B2D8"/>
<path d="M400 768.4A163.51 163.51 0 0 1 389.47 800.98L382.38 797.83A155.75 155.75 0 0 0 392.41 766.81Z" fill="#72B2D8"/>
<path d="M392.41 766.81A155.75 155.75 0 0 1 382.38 797.83L375.29 794.69A147.99 147.99 0 0 0 384.81 765.21Z" fill="#3484BF"/>
<path d="M384.81 765.21A147.99 147.99 0 0 1 375.29 794.69L368.2 791.54A140.23 140.23 0 0 0 377.22 763.61Z" fill="#084184"/>
<path d="M377.22 763.61A140.23 140.23 0 0 1 368.2 791.54L361.1 788.4A132.48 132.48 0 0 0 369.63 762.01Z" fill="#BAD6EB"/>
<path d="M369.63 762.01A132.48 132.48 0 0 1 361.1 788.4L354.01 785.25A124.72 124.72 0 0 0 362.04 760.41Z" fill="#5BA3D0"/>
<path d="M362.04 760.41A124.72 124.72 0 0 1 354.01 785.25L346.92 782.11A116.96 116.96 0 0 0 354.45 758.81Z" fill="#3484BF"/>
<path d="M354.45 758.81A116.96 116.96 0 0 1 346.92 782.11L339.83 778.96A109.2 109.2 0 0 0 346.85 757.21Z" fill="#A5CDE3"/>
<path d="M424.94 816.7A202.3 202.3 0 0 1 403.81 853.4L397.53 848.85A194.54 194.54 0 0 0 417.84 813.55Z" fill="#8CC0DD"/>
<path d="M417.84 813.55A194.54 194.54 0 0 1 397.53 848.85L391.25 844.3A186.78 186.78 0 0 0 410.75 810.41Z" fill="#5BA3D0"/>
<path d="M410.75 810.41A186.78 186.78 0 0 1 391.25 844.3L384.97 839.75A179.03 179.03 0 0 0 403.66 807.26Z" fill="#FCAE92"/>
<path d="M403.66 807.26A179.03 179.03 0 0 1 384.97 839.75L378.68 835.19A171.27 171.27 0 0 0 396.57 804.12Z" fill="#A5CDE3"/>
<path d="M396.57 804.12A171.27 171.27 0 0 1 378.68 835.19L372.4 830.64A163.51 163.51 0 0 0 389.47 800.98Z" fill="#8CC0DD"/>
<path d="M389.47 800.98A163.51 163.51 0 0 1 372.4 830.64L366.12 826.09A155.75 155.75 0 0 0 382.38 797.83Z" fill="#A5CDE3"/>
<path d="M382.38 797.83A155.75 155.75 0 0 1 366.12 826.09L359.84 821.54A147.99 147.99 0 0 0 375.29 794.69Z" fill="#3484BF"/>
<path d="M375.29 794.69A147.99 147.99 0 0 1 359.84 821.54L353.55 816.98A140.23 140.23 0 0 0 368.2 791.54Z" fill="#1663AA"/>
<path d="M368.2 791.54A140.23 140.23 0 0 1 353.55 816.98L347.27 812.43A132.48 132.48 0 0 0 361.1 788.4Z" fill="#09529D"/>
<path d="M361.1 788.4A132.48 132.48 0 0 1 347.27 812.43L340.99 807.88A124.72 124.72 0 0 0 354.01 785.25Z" fill="#E4E9F3"/>
<path d="M354.01 785.25A124.72 124.72 0 0 1 340.99 807.88L334.71 803.33A116.96 116.96 0 0 0 346.92 782.11Z" fill="#3484BF"/>
<path d="M346.92 782.11A116.96 116.96 0 0 1 334.71 803.33L328.43 798.78A109.2 109.2 0 0 0 339.83 778.96Z" fill="#4695C8"/>
<path d="M403.81 853.4A202.3 202.3 0 0 1 375.51 884.91L370.32 879.15A194.54 194.54 0 0 0 397.53 848.85Z" fill="#F6E3DB"/>
<path d="M397.53 848.85A194.54 194.54 0 0 1 370.32 879.15L365.12 873.38A186.78 186.78 0 0 0 391.25 844.3Z" fill="#5BA3D0"/>
<path d="M391.25 844.3A186.78 186.78 0 0 1 365.12 873.38L359.92 867.62A179.03 179.03 0 0 0 384.97 839.75Z" fill="#FCAE92"/>
<path d="M384.97 839.75A179.03 179.03 0 0 1 359.92 867.62L354.72 861.86A171.27 171.27 0 0 0 378.68 835.19Z" fill="#72B2D8"/>
<path d="M378.68 835.19A171.27 171.27 0 0 1 354.72 861.86L349.53 856.1A163.51 163.51 0 0 0 372.4 830.64Z" fill="#8CC0DD"/>
<path d="M372.4 830.64A163.51 163.51 0 0 1 349.53 856.1L344.33 850.34A155.75 155.75 0 0 0 366.12 826.09Z" fill="#BAD6EB"/>
<path d="M366.12 826.09A155.75 155.75 0 0 1 344.33 850.34L339.13 844.58A147.99 147.99 0 0 0 359.84 821.54Z" fill="#2373B6"/>
<path d="M359.84 821.54A147.99 147.99 0 0 1 339.13 844.58L333.94 838.82A140.23 140.23 0 0 0 353.55 816.98Z" fill="#1663AA"/>
<path d="M353.55 816.98A140.23 140.23 0 0 1 333.94 838.82L328.74 833.06A132.48 132.48 0 0 0 347.27 812.43Z" fill="#2373B6"/>
<path d="M347.27 812.43A132.48 132.48 0 0 1 328.74 833.06L323.54 827.3A124.72 124.72 0 0 0 340.99 807.88Z" fill="#8CC0DD"/>
<path d="M340.99 807.88A124.72 124.72 0 0 1 323.54 827.3L318.35 821.54A116.96 116.96 0 0 0 334.71 803.33Z" fill="#3484BF"/>
<path d="M334.71 803.33A116.96 116.96 0 0 1 318.35 821.54L313.15 815.78A109.2 109.2 0 0 0 328.43 798.78Z" fill="#BAD6EB"/>
<path d="M375.51 884.91A202.3 202.3 0 0 1 341.27 909.83L337.39 903.11A194.54 194.54 0 0 0 370.32 879.15Z" fill="#F6E3DB"/>
<path d="M370.32 879.15A194.54 194.54 0 0 1 337.39 903.11L333.5 896.39A186.78 186.78 0 0 0 365.12 873.38Z" fill="#5BA3D0"/>
<path d="M365.12 873.38A186.78 186.78 0 0 1 333.5 896.39L329.62 889.68A179.03 179.03 0 0 0 359.92 867.62Z" fill="#FDD6C4"/>
<path d="M359.92 867.62A179.03 179.03 0 0 1 329.62 889.68L325.74 882.96A171.27 171.27 0 0 0 354.72 861.86Z" fill="#BAD6EB"/>
<path d="M354.72 861.86A171.27 171.27 0 0 1 325.74 882.96L321.85 876.25A163.51 163.51 0 0 0 349.53 856.1Z" fill="#A5CDE3"/>
<path d="M349.53 856.1A163.51 163.51 0 0 1 321.85 876.25L317.97 869.53A155.75 155.75 0 0 0 344.33 850.34Z" fill="#BAD6EB"/>
<path d="M344.33 850.34A155.75 155.75 0 0 1 317.97 869.53L314.09 862.81A147.99 147.99 0 0 0 339.13 844.58Z" fill="#1663AA"/>
<path d="M339.13 844.58A147.99 147.99 0 0 1 314.09 862.81L310.2 856.1A140.23 140.23 0 0 0 333.94 838.82Z" fill="#2373B6"/>
<path d="M333.94 838.82A140.23 140.23 0 0 1 310.2 856.1L306.32 849.38A132.48 132.48 0 0 0 328.74 833.06Z" fill="#4695C8"/>
<path d="M328.74 833.06A132.48 132.48 0 0 1 306.32 849.38L302.43 842.66A124.72 124.72 0 0 0 323.54 827.3Z" fill="#5BA3D0"/>
<path d="M323.54 827.3A124.72 124.72 0 0 1 302.43 842.66L298.55 835.95A116.96 116.96 0 0 0 318.35 821.54Z" fill="#4695C8"/>
<path d="M318.35 821.54A116.96 116.96 0 0 1 298.55 835.95L294.67 829.23A109.2 109.2 0 0 0 313.15 815.78Z" fill="#3484BF"/>
<path d="M341.27 909.83A202.3 202.3 0 0 1 302.59 927.07L300.19 919.69A194.54 194.54 0 0 0 337.39 903.11Z" fill="#FDD6C4"/>
<path d="M337.39 903.11A194.54 194.54 0 0 1 300.19 919.69L297.79 912.32A186.78 186.78 0 0 0 333.5 896.39Z" fill="#5BA3D0"/>
<path d="M333.5 896.39A186.78 186.78 0 0 1 297.79 912.32L295.39 904.94A179.03 179.03 0 0 0 329.62 889.68Z" fill="#D7E7F5"/>
<path d="M329.62 889.68A179.03 179.03 0 0 1 295.39 904.94L292.99 897.56A171.27 171.27 0 0 0 325.74 882.96Z" fill="#8CC0DD"/>
<path d="M325.74 882.96A171.27 171.27 0 0 1 292.99 897.56L290.59 890.18A163.51 163.51 0 0 0 321.85 876.25Z" fill="#CBDEF1"/>
<path d="M321.85 876.25A163.51 163.51 0 0 1 290.59 890.18L288.19 882.81A155.75 155.75 0 0 0 317.97 869.53Z" fill="#8CC0DD"/>
<path d="M317.97 869.53A155.75 155.75 0 0 1 288.19 882.81L285.79 875.43A147.99 147.99 0 0 0 314.09 862.81Z" fill="#8CC0DD"/>
<path d="M314.09 862.81A147.99 147.99 0 0 1 285.79 875.43L283.39 868.05A140.23 140.23 0 0 0 310.2 856.1Z" fill="#2373B6"/>
<path d="M310.2 856.1A140.23 140.23 0 0 1 283.39 868.05L280.99 860.67A132.48 132.48 0 0 0 306.32 849.38Z" fill="#1663AA"/>
<path d="M306.32 849.38A132.48 132.48 0 0 1 280.99 860.67L278.59 853.3A124.72 124.72 0 0 0 302.43 842.66Z" fill="#2373B6"/>
<path d="M302.43 842.66A124.72 124.72 0 0 1 278.59 853.3L276.19 845.92A116.96 116.96 0 0 0 298.55 835.95Z" fill="#5BA3D0"/>
<path d="M298.55 835.95A116.96 116.96 0 0 1 276.19 845.92L273.79 838.54A109.2 109.2 0 0 0 294.67 829.23Z" fill="#4695C8"/>
<path d="M302.59 927.07A202.3 202.3 0 0 1 261.17 935.89L260.36 928.17A194.54 194.54 0 0 0 300.19 919.69Z" fill="#D7E7F5"/>
<path d="M300.19 919.69A194.54 194.54 0 0 1 260.36 928.17L259.55 920.46A186.78 186.78 0 0 0 297.79 912.32Z" fill="#2373B6"/>
<path d="M297.79 912.32A186.78 186.78 0 0 1 259.55 920.46L258.74 912.74A179.03 179.03 0 0 0 295.39 904.94Z" fill="#FDD6C4"/>
<path d="M295.39 904.94A179.03 179.03 0 0 1 258.74 912.74L257.93 905.03A171.27 171.27 0 0 0 292.99 897.56Z" fill="#2373B6"/>
<path d="M292.99 897.56A171.27 171.27 0 0 1 257.93 905.03L257.11 897.31A163.51 163.51 0 0 0 290.59 890.18Z" fill="#A5CDE3"/>
<path d="M290.59 890.18A163.51 163.51 0 0 1 257.11 897.31L256.3 889.59A155.75 155.75 0 0 0 288.19 882.81Z" fill="#A5CDE3"/>
<path d="M288.19 882.81A155.75 155.75 0 0 1 256.3 889.59L255.49 881.88A147.99 147.99 0 0 0 285.79 875.43Z" fill="#1663AA"/>
<path d="M285.79 875.43A147.99 147.99 0 0 1 255.49 881.88L254.68 874.16A140.23 140.23 0 0 0 283.39 868.05Z" fill="#09529D"/>
<path d="M283.39 868.05A140.23 140.23 0 0 1 254.68 874.16L253.87 866.45A132.48 132.48 0 0 0 280.99 860.67Z" fill="#2373B6"/>
<path d="M280.99 860.67A132.48 132.48 0 0 1 253.87 866.45L253.05 858.73A124.72 124.72 0 0 0 278.59 853.3Z" fill="#3484BF"/>
<path d="M278.59 853.3A124.72 124.72 0 0 1 253.05 858.73L252.24 851.02A116.96 116.96 0 0 0 276.19 845.92Z" fill="#2373B6"/>
<path d="M276.19 845.92A116.96 116.96 0 0 1 252.24 851.02L251.43 843.3A109.2 109.2 0 0 0 273.79 838.54Z" fill="#1663AA"/>
<path d="M261.17 935.89A202.3 202.3 0 0 1 218.83 935.89L219.64 928.17A194.54 194.54 0 0 0 260.36 928.17Z" fill="#F6E3DB"/>
<path d="M260.36 928.17A194.54 194.54 0 0 1 219.64 928.17L220.45 920.46A186.78 186.78 0 0 0 259.55 920.46Z" fill="#4695C8"/>
<path d="M259.55 920.46A186.78 186.78 0 0 1 220.45 920.46L221.26 912.74A179.03 179.03 0 0 0 258.74 912.74Z" fill="#E02D26"/>
<path d="M258.74 912.74A179.03 179.03 0 0 1 221.26 912.74L222.07 905.03A171.27 171.27 0 0 0 257.93 905.03Z" fill="#CBDEF1"/>
<path d="M257.93 905.03A171.27 171.27 0 0 1 222.07 905.03L222.89 897.31A163.51 163.51 0 0 0 257.11 897.31Z" fill="#BAD6EB"/>
<path d="M257.11 897.31A163.51 163.51 0 0 1 222.89 897.31L223.7 889.59A155.75 155.75 0 0 0 256.3 889.59Z" fill="#8CC0DD"/>
<path d="M256.3 889.59A155.75 155.75 0 0 1 223.7 889.59L224.51 881.88A147.99 147.99 0 0 0 255.49 881.88Z" fill="#1663AA"/>
<path d="M255.49 881.88A147.99 147.99 0 0 1 224.51 881.88L225.32 874.16A140.23 140.23 0 0 0 254.68 874.16Z" fill="#3484BF"/>
<path d="M254.68 874.16A140.23 140.23 0 0 1 225.32 874.16L226.13 866.45A132.48 132.48 0 0 0 253.87 866.45Z" fill="#084184"/>
<path d="M253.87 866.45A132.48 132.48 0 0 1 226.13 866.45L226.95 858.73A124.72 124.72 0 0 0 253.05 858.73Z" fill="#5BA3D0"/>
<path d="M253.05 858.73A124.72 124.72 0 0 1 226.95 858.73L227.76 851.02A116.96 116.96 0 0 0 252.24 851.02Z" fill="#D7E7F5"/>
<path d="M252.24 851.02A116.96 116.96 0 0 1 227.76 851.02L228.57 843.3A109.2 109.2 0 0 0 251.43 843.3Z" fill="#5BA3D0"/>
<path d="M218.83 935.89A202.3 202.3 0 0 1 177.41 927.07L179.81 919.69A194.54 194.54 0 0 0 219.64 928.17Z" fill="#FCC3AB"/>
<path d="M219.64 928.17A194.54 194.54 0 0 1 179.81 919.69L182.21 912.32A186.78 186.78 0 0 0 220.45 920.46Z" fill="#D7E7F5"/>
<path d="M220.45 920.46A186.78 186.78 0 0 1 182.21 912.32L184.61 904.94A179.03 179.03 0 0 0 221.26 912.74Z" fill="#D7E7F5"/>
<path d="M221.26 912.74A179.03 179.03 0 0 1 184.61 904.94L187.01 897.56A171.27 171.27 0 0 0 222.07 905.03Z" fill="#FDD6C4"/>
<path d="M222.07 905.03A171.27 171.27 0 0 1 187.01 897.56L189.41 890.18A163.51 163.51 0 0 0 222.89 897.31Z" fill="#CBDEF1"/>
<path d="M222.89 897.31A163.51 163.51 0 0 1 189.41 890.18L191.81 882.81A155.75 155.75 0 0 0 223.7 889.59Z" fill="#E4E9F3"/>
<path d="M223.7 889.59A155.75 155.75 0 0 1 191.81 882.81L194.21 875.43A147.99 147.99 0 0 0 224.51 881.88Z" fill="#1663AA"/>
<path d="M224.51 881.88A147.99 147.99 0 0 1 194.21 875.43L196.61 868.05A140.23 140.23 0 0 0 225.32 874.16Z" fill="#2373B6"/>
<path d="M225.32 874.16A140.23 140.23 0 0 1 196.61 868.05L199.01 860.67A132.48 132.48 0 0 0 226.13 866.45Z" fill="#4695C8"/>
<path d="M226.13 866.45A132.48 132.48 0 0 1 199.01 860.67L201.41 853.3A124.72 124.72 0 0 0 226.95 858.73Z" fill="#3484BF"/>
<path d="M226.95 858.73A124.72 124.72 0 0 1 201.41 853.3L203.81 845.92A116.96 116.96 0 0 0 227.76 851.02Z" fill="#5BA3D0"/>
<path d="M227.76 851.02A116.96 116.96 0 0 1 203.81 845.92L206.21 838.54A109.2 109.2 0 0 0 228.57 843.3Z" fill="#1663AA"/>
<path d="M177.41 927.07A202.3 202.3 0 0 1 138.73 909.83L142.61 903.11A194.54 194.54 0 0 0 179.81 919.69Z" fill="#FCAE92"/>
<path d="M179.81 919.69A194.54 194.54 0 0 1 142.61 903.11L146.5 896.39A186.78 186.78 0 0 0 182.21 912.32Z" fill="#5BA3D0"/>
<path d="M182.21 912.32A186.78 186.78 0 0 1 146.5 896.39L150.38 889.68A179.03 179.03 0 0 0 184.61 904.94Z" fill="#CBDEF1"/>
<path d="M184.61 904.94A179.03 179.03 0 0 1 150.38 889.68L154.26 882.96A171.27 171.27 0 0 0 187.01 897.56Z" fill="#D7E7F5"/>
<path d="M187.01 897.56A171.27 171.27 0 0 1 154.26 882.96L158.15 876.25A163.51 163.51 0 0 0 189.41 890.18Z" fill="#CBDEF1"/>
<path d="M189.41 890.18A163.51 163.51 0 0 1 158.15 876.25L162.03 869.53A155.75 155.75 0 0 0 191.81 882.81Z" fill="#A5CDE3"/>
<path d="M191.81 882.81A155.75 155.75 0 0 1 162.03 869.53L165.91 862.81A147.99 147.99 0 0 0 194.21 875.43Z" fill="#09529D"/>
<path d="M194.21 875.43A147.99 147.99 0 0 1 165.91 862.81L169.8 856.1A140.23 140.23 0 0 0 196.61 868.05Z" fill="#1663AA"/>
<path d="M196.61 868.05A140.23 140.23 0 0 1 169.8 856.1L173.68 849.38A132.48 132.48 0 0 0 199.01 860.67Z" fill="#4695C8"/>
<path d="M199.01 860.67A132.48 132.48 0 0 1 173.68 849.38L177.57 842.66A124.72 124.72 0 0 0 201.41 853.3Z" fill="#4695C8"/>
<path d="M201.41 853.3A124.72 124.72 0 0 1 177.57 842.66L181.45 835.95A116.96 116.96 0 0 0 203.81 845.92Z" fill="#5BA3D0"/>
<path d="M203.81 845.92A116.96 116.96 0 0 1 181.45 835.95L185.33 829.23A109.2 109.2 0 0 0 206.21 838.54Z" fill="#2373B6"/>
<path d="M138.73 909.83A202.3 202.3 0 0 1 104.49 884.91L109.68 879.15A194.54 194.54 0 0 0 142.61 903.11Z" fill="#72B2D8"/>
<path d="M142.61 903.11A194.54 194.54 0 0 1 109.68 879.15L114.88 873.38A186.78 186.78 0 0 0 146.5 896.39Z" fill="#A5CDE3"/>
<path d="M146.5 896.39A186.78 186.78 0 0 1 114.88 873.38L120.08 867.62A179.03 179.03 0 0 0 150.38 889.68Z" fill="#FCAE92"/>
<path d="M150.38 889.68A179.03 179.03 0 0 1 120.08 867.62L125.28 861.86A171.27 171.27 0 0 0 154.26 882.96Z" fill="#FCC3AB"/>
<path d="M154.26 882.96A171.27 171.27 0 0 1 125.28 861.86L130.47 856.1A163.51 163.51 0 0 0 158.15 876.25Z" fill="#BAD6EB"/>
<path d="M158.15 876.25A163.51 163.51 0 0 1 130.47 856.1L135.67 850.34A155.75 155.75 0 0 0 162.03 869.53Z" fill="#CBDEF1"/>
<path d="M162.03 869.53A155.75 155.75 0 0 1 135.67 850.34L140.87 844.58A147.99 147.99 0 0 0 165.91 862.81Z" fill="#2373B6"/>
<path d="M165.91 862.81A147.99 147.99 0 0 1 140.87 844.58L146.06 838.82A140.23 140.23 0 0 0 169.8 856.1Z" fill="#4695C8"/>
<path d="M169.8 856.1A140.23 140.23 0 0 1 146.06 838.82L151.26 833.06A132.48 132.48 0 0 0 173.68 849.38Z" fill="#084184"/>
<path d="M173.68 849.38A132.48 132.48 0 0 1 151.26 833.06L156.46 827.3A124.72 124.72 0 0 0 177.57 842.66Z" fill="#A5CDE3"/>
<path d="M177.57 842.66A124.72 124.72 0 0 1 156.46 827.3L161.65 821.54A116.96 116.96 0 0 0 181.45 835.95Z" fill="#3484BF"/>
<path d="M181.45 835.95A116.96 116.96 0 0 1 161.65 821.54L166.85 815.78A109.2 109.2 0 0 0 185.33 829.23Z" fill="#2373B6"/>
<path d="M104.49 884.91A202.3 202.3 0 0 1 76.19 853.4L82.47 848.85A194.54 194.54 0 0 0 109.68 879.15Z" fill="#F6E3DB"/>
<path d="M109.68 879.15A194.54 194.54 0 0 1 82.47 848.85L88.75 844.3A186.78 186.78 0 0 0 114.88 873.38Z" fill="#3484BF"/>
<path d="M114.88 873.38A186.78 186.78 0 0 1 88.75 844.3L95.03 839.75A179.03 179.03 0 0 0 120.08 867.62Z" fill="#3484BF"/>
<path d="M120.08 867.62A179.03 179.03 0 0 1 95.03 839.75L101.32 835.19A171.27 171.27 0 0 0 125.28 861.86Z" fill="#D7E7F5"/>
<path d="M125.28 861.86A171.27 171.27 0 0 1 101.32 835.19L107.6 830.64A163.51 163.51 0 0 0 130.47 856.1Z" fill="#CBDEF1"/>
<path d="M130.47 856.1A163.51 163.51 0 0 1 107.6 830.64L113.88 826.09A155.75 155.75 0 0 0 135.67 850.34Z" fill="#8CC0DD"/>
<path d="M135.67 850.34A155.75 155.75 0 0 1 113.88 826.09L120.16 821.54A147.99 147.99 0 0 0 140.87 844.58Z" fill="#BAD6EB"/>
<path d="M140.87 844.58A147.99 147.99 0 0 1 120.16 821.54L126.45 816.98A140.23 140.23 0 0 0 146.06 838.82Z" fill="#D7E7F5"/>
<path d="M146.06 838.82A140.23 140.23 0 0 1 126.45 816.98L132.73 812.43A132.48 132.48 0 0 0 151.26 833.06Z" fill="#084184"/>
<path d="M151.26 833.06A132.48 132.48 0 0 1 132.73 812.43L139.01 807.88A124.72 124.72 0 0 0 156.46 827.3Z" fill="#D7E7F5"/>
<path d="M156.46 827.3A124.72 124.72 0 0 1 139.01 807.88L145.29 803.33A116.96 116.96 0 0 0 161.65 821.54Z" fill="#5BA3D0"/>
<path d="M161.65 821.54A116.96 116.96 0 0 1 145.29 803.33L151.57 798.78A109.2 109.2 0 0 0 166.85 815.78Z" fill="#4695C8"/>
<path d="M76.19 853.4A202.3 202.3 0 0 1 55.06 816.7L62.16 813.55A194.54 194.54 0 0 0 82.47 848.85Z" fill="#FDD6C4"/>
<path d="M82.47 848.85A194.54 194.54 0 0 1 62.16 813.55L69.25 810.41A186.78 186.78 0 0 0 88.75 844.3Z" fill="#A60F15"/>
<path d="M88.75 844.3A186.78 186.78 0 0 1 69.25 810.41L76.34 807.26A179.03 179.03 0 0 0 95.03 839.75Z" fill="#F6E3DB"/>
<path d="M95.03 839.75A179.03 179.03 0 0 1 76.34 807.26L83.43 804.12A171.27 171.27 0 0 0 101.32 835.19Z" fill="#A5CDE3"/>
<path d="M101.32 835.19A171.27 171.27 0 0 1 83.43 804.12L90.53 800.98A163.51 163.51 0 0 0 107.6 830.64Z" fill="#F6E3DB"/>
<path d="M107.6 830.64A163.51 163.51 0 0 1 90.53 800.98L97.62 797.83A155.75 155.75 0 0 0 113.88 826.09Z" fill="#72B2D8"/>
<path d="M113.88 826.09A155.75 155.75 0 0 1 97.62 797.83L104.71 794.69A147.99 147.99 0 0 0 120.16 821.54Z" fill="#5BA3D0"/>
<path d="M120.16 821.54A147.99 147.99 0 0 1 104.71 794.69L111.8 791.54A140.23 140.23 0 0 0 126.45 816.98Z" fill="#084184"/>
<path d="M126.45 816.98A140.23 140.23 0 0 1 111.8 791.54L118.9 788.4A132.48 132.48 0 0 0 132.73 812.43Z" fill="#A5CDE3"/>
<path d="M132.73 812.43A132.48 132.48 0 0 1 118.9 788.4L125.99 785.25A124.72 124.72 0 0 0 139.01 807.88Z" fill="#F6E3DB"/>
<path d="M139.01 807.88A124.72 124.72 0 0 1 125.99 785.25L133.08 782.11A116.96 116.96 0 0 0 145.29 803.33Z" fill="#2373B6"/>
<path d="M145.29 803.33A116.96 116.96 0 0 1 133.08 782.11L140.17 778.96A109.2 109.2 0 0 0 151.57 798.78Z" fill="#D7E7F5"/>
<path d="M55.06 816.7A202.3 202.3 0 0 1 42.04 776.4L49.64 774.8A194.54 194.54 0 0 0 62.16 813.55Z" fill="#F0402F"/>
<path d="M62.16 813.55A194.54 194.54 0 0 1 49.64 774.8L57.23 773.2A186.78 186.78 0 0 0 69.25 810.41Z" fill="#5BA3D0"/>
<path d="M69.25 810.41A186.78 186.78 0 0 1 57.23 773.2L64.82 771.6A179.03 179.03 0 0 0 76.34 807.26Z" fill="#F6E3DB"/>
<path d="M76.34 807.26A179.03 179.03 0 0 1 64.82 771.6L72.41 770A171.27 171.27 0 0 0 83.43 804.12Z" fill="#FCAE92"/>
<path d="M83.43 804.12A171.27 171.27 0 0 1 72.41 770L80 768.4A163.51 163.51 0 0 0 90.53 800.98Z" fill="#FDD6C4"/>
<path d="M90.53 800.98A163.51 163.51 0 0 1 80 768.4L87.59 766.81A155.75 155.75 0 0 0 97.62 797.83Z" fill="#FC997A"/>
<path d="M97.62 797.83A155.75 155.75 0 0 1 87.59 766.81L95.19 765.21A147.99 147.99 0 0 0 104.71 794.69Z" fill="#2373B6"/>
<path d="M104.71 794.69A147.99 147.99 0 0 1 95.19 765.21L102.78 763.61A140.23 140.23 0 0 0 111.8 791.54Z" fill="#1663AA"/>
<path d="M111.8 791.54A140.23 140.23 0 0 1 102.78 763.61L110.37 762.01A132.48 132.48 0 0 0 118.9 788.4Z" fill="#09529D"/>
<path d="M118.9 788.4A132.48 132.48 0 0 1 110.37 762.01L117.96 760.41A124.72 124.72 0 0 0 125.99 785.25Z" fill="#CBDEF1"/>
<path d="M125.99 785.25A124.72 124.72 0 0 1 117.96 760.41L125.55 758.81A116.96 116.96 0 0 0 133.08 782.11Z" fill="#A5CDE3"/>
<path d="M133.08 782.11A116.96 116.96 0 0 1 125.55 758.81L133.15 757.21A109.2 109.2 0 0 0 140.17 778.96Z" fill="#5BA3D0"/>
<path d="M42.04 776.4A202.3 202.3 0 0 1 37.7 734.28L45.46 734.29A194.54 194.54 0 0 0 49.64 774.8Z" fill="#FC997A"/>
<path d="M49.64 774.8A194.54 194.54 0 0 1 45.46 734.29L53.22 734.31A186.78 186.78 0 0 0 57.23 773.2Z" fill="#4695C8"/>
<path d="M57.23 773.2A186.78 186.78 0 0 1 53.22 734.31L60.98 734.33A179.03 179.03 0 0 0 64.82 771.6Z" fill="#8CC0DD"/>
<path d="M64.82 771.6A179.03 179.03 0 0 1 60.98 734.33L68.73 734.34A171.27 171.27 0 0 0 72.41 770Z" fill="#D7E7F5"/>
<path d="M72.41 770A171.27 171.27 0 0 1 68.73 734.34L76.49 734.36A163.51 163.51 0 0 0 80 768.4Z" fill="#F6E3DB"/>
<path d="M80 768.4A163.51 163.51 0 0 1 76.49 734.36L84.25 734.37A155.75 155.75 0 0 0 87.59 766.81Z" fill="#FDD6C4"/>
<path d="M87.59 766.81A155.75 155.75 0 0 1 84.25 734.37L92.01 734.39A147.99 147.99 0 0 0 95.19 765.21Z" fill="#3484BF"/>
<path d="M95.19 765.21A147.99 147.99 0 0 1 92.01 734.39L99.77 734.41A140.23 140.23 0 0 0 102.78 763.61Z" fill="#2373B6"/>
<path d="M102.78 763.61A140.23 140.23 0 0 1 99.77 734.41L107.53 734.42A132.48 132.48 0 0 0 110.37 762.01Z" fill="#09529D"/>
<path d="M110.37 762.01A132.48 132.48 0 0 1 107.53 734.42L115.28 734.44A124.72 124.72 0 0 0 117.96 760.41Z" fill="#F6583F"/>
<path d="M117.96 760.41A124.72 124.72 0 0 1 115.28 734.44L123.04 734.46A116.96 116.96 0 0 0 125.55 758.81Z" fill="#5BA3D0"/>
<path d="M125.55 758.81A116.96 116.96 0 0 1 123.04 734.46L130.8 734.47A109.2 109.2 0 0 0 133.15 757.21Z" fill="#4695C8"/>
<path d="M37.7 734.28A202.3 202.3 0 0 1 42.22 692.17L49.81 693.8A194.54 194.54 0 0 0 45.46 734.29Z" fill="#FB7050"/>
<path d="M45.46 734.29A194.54 194.54 0 0 1 49.81 693.8L57.39 695.43A186.78 186.78 0 0 0 53.22 734.31Z" fill="#5BA3D0"/>
<path d="M53.22 734.31A186.78 186.78 0 0 1 57.39 695.43L64.98 697.06A179.03 179.03 0 0 0 60.98 734.33Z" fill="#F6E3DB"/>
<path d="M60.98 734.33A179.03 179.03 0 0 1 64.98 697.06L72.56 698.69A171.27 171.27 0 0 0 68.73 734.34Z" fill="#4695C8"/>
<path d="M68.73 734.34A171.27 171.27 0 0 1 72.56 698.69L80.15 700.33A163.51 163.51 0 0 0 76.49 734.36Z" fill="#BAD6EB"/>
<path d="M76.49 734.36A163.51 163.51 0 0 1 80.15 700.33L87.73 701.96A155.75 155.75 0 0 0 84.25 734.37Z" fill="#F6E3DB"/>
<path d="M84.25 734.37A155.75 155.75 0 0 1 87.73 701.96L95.32 703.59A147.99 147.99 0 0 0 92.01 734.39Z" fill="#09529D"/>
<path d="M92.01 734.39A147.99 147.99 0 0 1 95.32 703.59L102.9 705.22A140.23 140.23 0 0 0 99.77 734.41Z" fill="#3484BF"/>
<path d="M99.77 734.41A140.23 140.23 0 0 1 102.9 705.22L110.49 706.85A132.48 132.48 0 0 0 107.53 734.42Z" fill="#09529D"/>
<path d="M107.53 734.42A132.48 132.48 0 0 1 110.49 706.85L118.07 708.48A124.72 124.72 0 0 0 115.28 734.44Z" fill="#E4E9F3"/>
<path d="M115.28 734.44A124.72 124.72 0 0 1 118.07 708.48L125.66 710.11A116.96 116.96 0 0 0 123.04 734.46Z" fill="#3484BF"/>
<path d="M123.04 734.46A116.96 116.96 0 0 1 125.66 710.11L133.24 711.74A109.2 109.2 0 0 0 130.8 734.47Z" fill="#4695C8"/>
<path d="M42.22 692.17A202.3 202.3 0 0 1 55.41 651.93L62.49 655.1A194.54 194.54 0 0 0 49.81 693.8Z" fill="#CD1A1E"/>
<path d="M49.81 693.8A194.54 194.54 0 0 1 62.49 655.1L69.57 658.28A186.78 186.78 0 0 0 57.39 695.43Z" fill="#D7E7F5"/>
<path d="M57.39 695.43A186.78 186.78 0 0 1 69.57 658.28L76.65 661.45A179.03 179.03 0 0 0 64.98 697.06Z" fill="#BAD6EB"/>
<path d="M64.98 697.06A179.03 179.03 0 0 1 76.65 661.45L83.73 664.62A171.27 171.27 0 0 0 72.56 698.69Z" fill="#8CC0DD"/>
<path d="M72.56 698.69A171.27 171.27 0 0 1 83.73 664.62L90.8 667.8A163.51 163.51 0 0 0 80.15 700.33Z" fill="#BAD6EB"/>
<path d="M80.15 700.33A163.51 163.51 0 0 1 90.8 667.8L97.88 670.97A155.75 155.75 0 0 0 87.73 701.96Z" fill="#CBDEF1"/>
<path d="M87.73 701.96A155.75 155.75 0 0 1 97.88 670.97L104.96 674.15A147.99 147.99 0 0 0 95.32 703.59Z" fill="#2373B6"/>
<path d="M95.32 703.59A147.99 147.99 0 0 1 104.96 674.15L112.04 677.32A140.23 140.23 0 0 0 102.9 705.22Z" fill="#4695C8"/>
<path d="M102.9 705.22A140.23 140.23 0 0 1 112.04 677.32L119.12 680.5A132.48 132.48 0 0 0 110.49 706.85Z" fill="#1663AA"/>
<path d="M110.49 706.85A132.48 132.48 0 0 1 119.12 680.5L126.2 683.67A124.72 124.72 0 0 0 118.07 708.48Z" fill="#A5CDE3"/>
<path d="M118.07 708.48A124.72 124.72 0 0 1 126.2 683.67L133.28 686.85A116.96 116.96 0 0 0 125.66 710.11Z" fill="#BAD6EB"/>
<path d="M125.66 710.11A116.96 116.96 0 0 1 133.28 686.85L140.36 690.02A109.2 109.2 0 0 0 133.24 711.74Z" fill="#5BA3D0"/>
<path d="M55.41 651.93A202.3 202.3 0 0 1 76.69 615.31L82.95 619.89A194.54 194.54 0 0 0 62.49 655.1Z" fill="#870811"/>
<path d="M62.49 655.1A194.54 194.54 0 0 1 82.95 619.89L89.21 624.47A186.78 186.78 0 0 0 69.57 658.28Z" fill="#8CC0DD"/>
<path d="M69.57 658.28A186.78 186.78 0 0 1 89.21 624.47L95.47 629.05A179.03 179.03 0 0 0 76.65 661.45Z" fill="#FDD6C4"/>
<path d="M76.65 661.45A179.03 179.03 0 0 1 95.47 629.05L101.74 633.63A171.27 171.27 0 0 0 83.73 664.62Z" fill="#D7E7F5"/>
<path d="M83.73 664.62A171.27 171.27 0 0 1 101.74 633.63L108 638.2A163.51 163.51 0 0 0 90.8 667.8Z" fill="#A5CDE3"/>
<path d="M90.8 667.8A163.51 163.51 0 0 1 108 638.2L114.26 642.78A155.75 155.75 0 0 0 97.88 670.97Z" fill="#FDD6C4"/>
<path d="M97.88 670.97A155.75 155.75 0 0 1 114.26 642.78L120.53 647.36A147.99 147.99 0 0 0 104.96 674.15Z" fill="#5BA3D0"/>
<path d="M104.96 674.15A147.99 147.99 0 0 1 120.53 647.36L126.79 651.94A140.23 140.23 0 0 0 112.04 677.32Z" fill="#4695C8"/>
<path d="M112.04 677.32A140.23 140.23 0 0 1 126.79 651.94L133.05 656.52A132.48 132.48 0 0 0 119.12 680.5Z" fill="#3484BF"/>
<path d="M119.12 680.5A132.48 132.48 0 0 1 133.05 656.52L139.32 661.1A124.72 124.72 0 0 0 126.2 683.67Z" fill="#2373B6"/>
<path d="M126.2 683.67A124.72 124.72 0 0 1 139.32 661.1L145.58 665.68A116.96 116.96 0 0 0 133.28 686.85Z" fill="#A5CDE3"/>
<path d="M133.28 686.85A116.96 116.96 0 0 1 145.58 665.68L151.84 670.26A109.2 109.2 0 0 0 140.36 690.02Z" fill="#3484BF"/>
<path d="M76.69 615.31A202.3 202.3 0 0 1 105.12 583.93L110.29 589.71A194.54 194.54 0 0 0 82.95 619.89Z" fill="#FB7050"/>
<path d="M82.95 619.89A194.54 194.54 0 0 1 110.29 589.71L115.46 595.49A186.78 186.78 0 0 0 89.21 624.47Z" fill="#FC997A"/>
<path d="M89.21 624.47A186.78 186.78 0 0 1 115.46 595.49L120.64 601.27A179.03 179.03 0 0 0 95.47 629.05Z" fill="#CBDEF1"/>
<path d="M95.47 629.05A179.03 179.03 0 0 1 120.64 601.27L125.81 607.06A171.27 171.27 0 0 0 101.74 633.63Z" fill="#5BA3D0"/>
<path d="M101.74 633.63A171.27 171.27 0 0 1 125.81 607.06L130.98 612.84A163.51 163.51 0 0 0 108 638.2Z" fill="#A5CDE3"/>
<path d="M108 638.2A163.51 163.51 0 0 1 130.98 612.84L136.16 618.62A155.75 155.75 0 0 0 114.26 642.78Z" fill="#BAD6EB"/>
<path d="M114.26 642.78A155.75 155.75 0 0 1 136.16 618.62L141.33 624.4A147.99 147.99 0 0 0 120.53 647.36Z" fill="#FCAE92"/>
<path d="M120.53 647.36A147.99 147.99 0 0 1 141.33 624.4L146.5 630.19A140.23 140.23 0 0 0 126.79 651.94Z" fill="#3484BF"/>
<path d="M126.79 651.94A140.23 140.23 0 0 1 146.5 630.19L151.67 635.97A132.48 132.48 0 0 0 133.05 656.52Z" fill="#1663AA"/>
<path d="M133.05 656.52A132.48 132.48 0 0 1 151.67 635.97L156.85 641.75A124.72 124.72 0 0 0 139.32 661.1Z" fill="#CBDEF1"/>
<path d="M139.32 661.1A124.72 124.72 0 0 1 156.85 641.75L162.02 647.53A116.96 116.96 0 0 0 145.58 665.68Z" fill="#09529D"/>
<path d="M145.58 665.68A116.96 116.96 0 0 1 162.02 647.53L167.19 653.31A109.2 109.2 0 0 0 151.84 670.26Z" fill="#4695C8"/>
<path d="M105.12 583.93A202.3 202.3 0 0 1 139.46 559.15L143.32 565.88A194.54 194.54 0 0 0 110.29 589.71Z" fill="#FC997A"/>
<path d="M110.29 589.71A194.54 194.54 0 0 1 143.32 565.88L147.17 572.62A186.78 186.78 0 0 0 115.46 595.49Z" fill="#E4E9F3"/>
<path d="M115.46 595.49A186.78 186.78 0 0 1 147.17 572.62L151.03 579.35A179.03 179.03 0 0 0 120.64 601.27Z" fill="#F6E3DB"/>
<path d="M120.64 601.27A179.03 179.03 0 0 1 151.03 579.35L154.88 586.08A171.27 171.27 0 0 0 125.81 607.06Z" fill="#5BA3D0"/>
<path d="M125.81 607.06A171.27 171.27 0 0 1 154.88 586.08L158.74 592.81A163.51 163.51 0 0 0 130.98 612.84Z" fill="#A5CDE3"/>
<path d="M130.98 612.84A163.51 163.51 0 0 1 158.74 592.81L162.6 599.55A155.75 155.75 0 0 0 136.16 618.62Z" fill="#BAD6EB"/>
<path d="M136.16 618.62A155.75 155.75 0 0 1 162.6 599.55L166.45 606.28A147.99 147.99 0 0 0 141.33 624.4Z" fill="#FC8464"/>
<path d="M141.33 624.4A147.99 147.99 0 0 1 166.45 606.28L170.31 613.01A140.23 140.23 0 0 0 146.5 630.19Z" fill="#4695C8"/>
<path d="M146.5 630.19A140.23 140.23 0 0 1 170.31 613.01L174.16 619.74A132.48 132.48 0 0 0 151.67 635.97Z" fill="#72B2D8"/>
<path d="M151.67 635.97A132.48 132.48 0 0 1 174.16 619.74L178.02 626.48A124.72 124.72 0 0 0 156.85 641.75Z" fill="#3484BF"/>
<path d="M156.85 641.75A124.72 124.72 0 0 1 178.02 626.48L181.87 633.21A116.96 116.96 0 0 0 162.02 647.53Z" fill="#3484BF"/>
<path d="M162.02 647.53A116.96 116.96 0 0 1 181.87 633.21L185.73 639.94A109.2 109.2 0 0 0 167.19 653.31Z" fill="#2373B6"/>
</g>
<path d="M303.89 646.14L292.66 661.71M320.93 661.38L306.7 674.27M292.66 661.71A90 90 0 0 1 306.7 674.27M300.01 667.62L297.34 670.61M334.42 679.84L314.36 691.49M297.34 670.61A86 86 0 0 1 314.36 691.49M343.77 700.69L326.95 706.21M348.58 723.04L330.98 724.93M326.95 706.21A91.5 91.5 0 0 1 330.98 724.93M306.67 680.38L299.31 686.38M329.46 715.46L314.79 718.62M299.31 686.38A76.5 76.5 0 0 1 314.79 718.62M348.62 745.9L320.57 743.01M343.91 768.27L317.08 759.6M320.57 743.01A81 81 0 0 1 317.08 759.6M308.96 701.58L298.32 706.69M319.26 751.4L303.31 748.04M298.32 706.69A64.7 64.7 0 0 1 303.31 748.04M334.65 789.17L318.01 779.59M321.23 807.68L306.95 794.85M318.01 779.59A90 90 0 0 1 306.95 794.85M304.26 822.99L295.9 811.51M284.47 834.43L278.69 821.47M295.9 811.51A95 95 0 0 1 278.69 821.47M312.88 787.51L310.04 785.46M287.56 816.94L283.3 809.58M310.04 785.46A86.5 86.5 0 0 1 283.3 809.58M297.94 798.93L296.6 797.44M262.73 841.51L257.59 817.35M296.6 797.44A84.5 84.5 0 0 1 257.59 817.35M278.41 809.97L274.55 802.39M240 843.9L240 810.7M274.55 802.39A76 76 0 0 1 240 810.7M217.27 841.51L220.43 826.64M195.53 834.43L201.72 820.55M220.43 826.64A94 94 0 0 1 201.72 820.55M210.91 824.09L215.09 811.25M175.74 822.99L192.63 799.79M215.09 811.25A80.5 80.5 0 0 1 192.63 799.79M257.77 808.59L256.71 804.22M203.41 806.4L207.5 798.39M256.71 804.22A71.5 71.5 0 0 1 207.5 798.39M231.58 805.7L232.53 797.76M158.77 807.68L192.76 777.14M232.53 797.76A63.5 63.5 0 0 1 192.76 777.14M304.23 726.95L273.76 730.63M210.77 791.07L224.35 764.88M273.76 730.63A34 34 0 0 1 224.35 764.88M131.38 745.9L155.95 743.37M131.42 723.04L155.98 725.68M155.95 743.37A84.5 84.5 0 0 1 155.98 725.68M136.09 768.27L161.5 760.06M155.5 734.52L157.5 734.53M161.5 760.06A82.5 82.5 0 0 1 157.5 734.53M136.23 700.69L159.23 708.23M145.58 679.84L166.51 691.99M159.23 708.23A85 85 0 0 1 166.51 691.99M158.49 747.45L171.34 745.44M162.44 699.92L176.58 706.26M171.34 745.44A69.5 69.5 0 0 1 176.58 706.26M159.07 661.38L178.27 678.77M176.11 646.14L191.26 667.15M178.27 678.77A83.3 83.3 0 0 1 191.26 667.15M171.12 725.47L177.06 726.27M184.46 672.62L197.66 687.37M177.06 726.27A63.5 63.5 0 0 1 197.66 687.37M145.35 789.17L200.56 757.39M183.88 704.98L199.79 713.4M200.56 757.39A45.5 45.5 0 0 1 199.79 713.4M259.37 762.64L249.4 748.26M194.51 735.5L223.5 734.99M249.4 748.26A16.5 16.5 0 0 1 223.5 734.99" fill="none" stroke="#000" stroke-width="1.25" stroke-linecap="butt" stroke-linejoin="miter"/>
<path d="M323.19 589.45L313.99 584.18L310.13 590.91L319.33 596.18M327.04 582.71L315.76 576.25L309.98 586.35L312.06 587.55M330.9 575.98L316.67 567.83L309.92 579.61L312.87 581.3M334.75 569.25L318.7 560.06L311.47 572.68L313.29 573.72M338.61 562.52L313.18 547.96L305.71 561L315.09 566.37M315.48 602.91L307.32 598.24L303.46 604.97L311.62 609.64M305.39 601.61L300.27 598.67L294.49 608.77L307.76 616.38M300.05 629.84L290.42 624.32L286.57 631.06L296.2 636.57M303.91 623.11L290.02 615.16L284.24 625.26L288.49 627.69M297.38 603.72L292.09 600.69L282.45 617.52L287.13 620.21M309.45 554.48L282.81 539.22L253.77 589.92L287.27 609.11" fill="none" stroke="#4a4a4a" stroke-width="0.9" stroke-linejoin="miter"/>
<path d="M240.4 521.7L240.4 734.3M232.4 625.2L240.4 625.2M235.9 641.55L240.4 641.55M232.4 657.9L240.4 657.9M235.9 674.25L240.4 674.25M232.4 690.6L240.4 690.6M235.9 706.95L240.4 706.95M232.4 723.3L240.4 723.3" fill="none" stroke="#555" stroke-width="1"/>
<g font-size="11.3" text-anchor="end" fill="#000" stroke="#000" stroke-width="0.15">
<text x="226.8" y="629.25">0</text>
<text x="226.8" y="661.95">200</text>
<text x="226.8" y="694.65">400</text>
<text x="226.8" y="727.35">600</text>
</g>
<g font-size="12.0" fill="#000" stroke="#000" stroke-width="0.22">
<text transform="translate(359.62 568.89) rotate(-54.19)" text-anchor="start" dy="0.36em">2076</text>
<text transform="translate(391.7 597.26) rotate(-42.18)" text-anchor="start" dy="0.36em">2077</text>
<text transform="translate(417.22 631.72) rotate(-30.16)" text-anchor="start" dy="0.36em">2098</text>
<text transform="translate(435.02 670.79) rotate(-18.14)" text-anchor="start" dy="0.36em">2088</text>
<text transform="translate(444.31 712.77) rotate(-6.13)" text-anchor="start" dy="0.36em">2100</text>
<text transform="translate(444.62 755.8) rotate(5.89)" text-anchor="start" dy="0.36em">2085</text>
<text transform="translate(435.94 798) rotate(17.9)" text-anchor="start" dy="0.36em">2094</text>
<text transform="translate(418.6 837.49) rotate(29.92)" text-anchor="start" dy="0.36em">2078</text>
<text transform="translate(393.38 872.49) rotate(41.94)" text-anchor="start" dy="0.36em">2079</text>
<text transform="translate(361.37 901.45) rotate(53.95)" text-anchor="start" dy="0.36em">2082</text>
<text transform="translate(323.99 923.07) rotate(65.97)" text-anchor="start" dy="0.36em">2092</text>
<text transform="translate(282.93 936.38) rotate(77.98)" text-anchor="start" dy="0.36em">2080</text>
<text transform="translate(240 940.8) rotate(90)" text-anchor="start" dy="0.36em">2096</text>
<text transform="translate(197.12 936.14) rotate(-77.98)" text-anchor="end" dy="0.36em">2083</text>
<text transform="translate(156.2 922.62) rotate(-65.97)" text-anchor="end" dy="0.36em">2091</text>
<text transform="translate(119.05 900.88) rotate(-53.95)" text-anchor="end" dy="0.36em">2093</text>
<text transform="translate(87.29 871.89) rotate(-41.94)" text-anchor="end" dy="0.36em">2099</text>
<text transform="translate(62.3 836.97) rotate(-29.92)" text-anchor="end" dy="0.36em">2081</text>
<text transform="translate(45.15 797.65) rotate(-17.9)" text-anchor="end" dy="0.36em">2084</text>
<text transform="translate(36.56 755.68) rotate(-5.89)" text-anchor="end" dy="0.36em">2087</text>
<text transform="translate(36.88 712.89) rotate(6.13)" text-anchor="end" dy="0.36em">2089</text>
<text transform="translate(46.06 671.15) rotate(18.14)" text-anchor="end" dy="0.36em">2086</text>
<text transform="translate(63.68 632.24) rotate(30.16)" text-anchor="end" dy="0.36em">2090</text>
<text transform="translate(88.95 597.86) rotate(42.18)" text-anchor="end" dy="0.36em">2095</text>
<text transform="translate(120.79 569.46) rotate(54.19)" text-anchor="end" dy="0.36em">2097</text>
</g>
<g font-size="9.0" fill="#000" stroke="#000" stroke-width="0.18">
<text transform="translate(146.16 559.78) rotate(-29.8)" dy="0.05em">Aug</text>
<text transform="translate(150.02 566.52) rotate(-29.8)" dy="0.05em">Mar</text>
<text transform="translate(153.87 573.25) rotate(-29.8)" dy="0.05em">Jul</text>
<text transform="translate(157.73 579.98) rotate(-29.8)" dy="0.05em">Jun</text>
<text transform="translate(161.59 586.71) rotate(-29.8)" dy="0.05em">Sep</text>
<text transform="translate(165.44 593.45) rotate(-29.8)" dy="0.05em">Feb</text>
<text transform="translate(169.3 600.18) rotate(-29.8)" dy="0.05em">Nov</text>
<text transform="translate(173.15 606.91) rotate(-29.8)" dy="0.05em">May</text>
<text transform="translate(177.01 613.64) rotate(-29.8)" dy="0.05em">Apr</text>
<text transform="translate(180.86 620.38) rotate(-29.8)" dy="0.05em">Oct</text>
<text transform="translate(184.72 627.11) rotate(-29.8)" dy="0.05em">Dec</text>
<text transform="translate(188.58 633.84) rotate(-29.8)" dy="0.05em">Jan</text>
</g>
<text x="533.2" y="516.1" font-size="21.3" text-anchor="end">Rainfall 2076 - 2100 (mm)</text>
<text x="26" y="544.5" font-size="22">(b)</text>
<g shape-rendering="crispEdges">
<rect x="481.8" y="944.65" width="29.5" height="14.15" fill="#08306B"/>
<rect x="481.8" y="930.49" width="29.5" height="14.65" fill="#084184"/>
<rect x="481.8" y="916.34" width="29.5" height="14.65" fill="#09529D"/>
<rect x="481.8" y="902.19" width="29.5" height="14.65" fill="#1663AA"/>
<rect x="481.8" y="888.03" width="29.5" height="14.65" fill="#2373B6"/>
<rect x="481.8" y="873.88" width="29.5" height="14.65" fill="#3484BF"/>
<rect x="481.8" y="859.73" width="29.5" height="14.65" fill="#4695C8"/>
<rect x="481.8" y="845.57" width="29.5" height="14.65" fill="#5BA3D0"/>
<rect x="481.8" y="831.42" width="29.5" height="14.65" fill="#72B2D8"/>
<rect x="481.8" y="817.27" width="29.5" height="14.65" fill="#8CC0DD"/>
<rect x="481.8" y="803.11" width="29.5" height="14.65" fill="#A5CDE3"/>
<rect x="481.8" y="788.96" width="29.5" height="14.65" fill="#BAD6EB"/>
<rect x="481.8" y="774.81" width="29.5" height="14.65" fill="#CBDEF1"/>
<rect x="481.8" y="760.65" width="29.5" height="14.65" fill="#D7E7F5"/>
<rect x="481.8" y="746.5" width="29.5" height="14.65" fill="#E4E9F3"/>
<rect x="481.8" y="732.35" width="29.5" height="14.65" fill="#F6E3DB"/>
<rect x="481.8" y="718.19" width="29.5" height="14.65" fill="#FDD6C4"/>
<rect x="481.8" y="704.04" width="29.5" height="14.65" fill="#FCC3AB"/>
<rect x="481.8" y="689.89" width="29.5" height="14.65" fill="#FCAE92"/>
<rect x="481.8" y="675.73" width="29.5" height="14.65" fill="#FC997A"/>
<rect x="481.8" y="661.58" width="29.5" height="14.65" fill="#FC8464"/>
<rect x="481.8" y="647.43" width="29.5" height="14.65" fill="#FB7050"/>
<rect x="481.8" y="633.27" width="29.5" height="14.65" fill="#F6583F"/>
<rect x="481.8" y="619.12" width="29.5" height="14.65" fill="#F0402F"/>
<rect x="481.8" y="604.97" width="29.5" height="14.65" fill="#E02D26"/>
<rect x="481.8" y="590.81" width="29.5" height="14.65" fill="#CD1A1E"/>
<rect x="481.8" y="576.66" width="29.5" height="14.65" fill="#BA1419"/>
<rect x="481.8" y="562.51" width="29.5" height="14.65" fill="#A60F15"/>
<rect x="481.8" y="548.35" width="29.5" height="14.65" fill="#870811"/>
<rect x="481.8" y="534.2" width="29.5" height="14.65" fill="#67000D"/>
</g>
<rect x="481.8" y="534.2" width="29.5" height="424.6" fill="none" stroke="#000" stroke-width="1"/>
<g font-size="11.3" fill="#000" stroke="#000" stroke-width="0.15">
<text x="523.0" y="962.85">0</text>
<text x="523.0" y="877.93">73</text>
<text x="523.0" y="793.01">146</text>
<text x="523.0" y="708.09">218</text>
<text x="523.0" y="623.17">291</text>
<text x="523.0" y="538.25">364</text>
</g>
<path d="M511.3 958.8L518.8 958.8M511.3 873.88L518.8 873.88M511.3 788.96L518.8 788.96M511.3 704.04L518.8 704.04M511.3 619.12L518.8 619.12M511.3 534.2L518.8 534.2" stroke="#000" stroke-width="1.2" fill="none"/>
</svg>
</body></html>
